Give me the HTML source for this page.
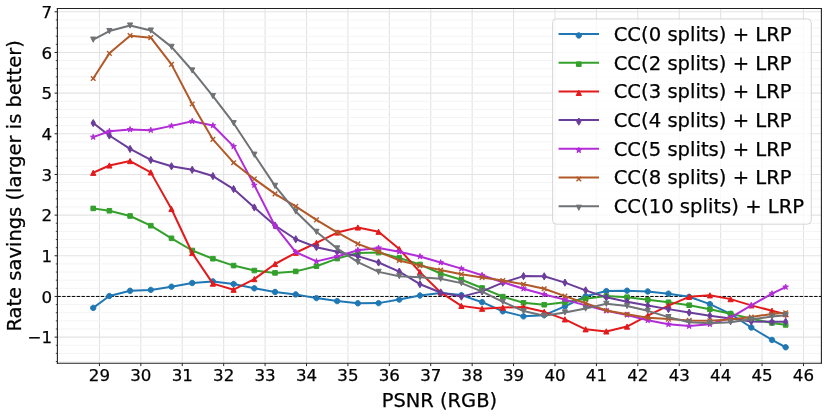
<!DOCTYPE html>
<html><head><meta charset="utf-8"><title>Rate savings chart</title>
<style>
html,body{margin:0;padding:0;background:#fff;}
body{width:830px;height:418px;overflow:hidden;}
svg{display:block;}
svg text{font-family:"DejaVu Sans","Liberation Sans",sans-serif;stroke:#000;stroke-width:0.25px;paint-order:stroke;}
</style></head><body>
<svg  width="830" height="418" viewBox="0 0 830 418" version="1.1">
<defs>
<style type="text/css">*{stroke-linejoin: round; stroke-linecap: butt}</style>
</defs>
<g id="figure_1">
<g id="patch_1">
<path d="M 0 418
L 830 418
L 830 0
L 0 0
z
" style="fill: #ffffff"/>
</g>
<g id="axes_1">
<g id="patch_2">
<path d="M 57.4 363.3
L 821.4 363.3
L 821.4 8.5
L 57.4 8.5
z
" style="fill: #ffffff"/>
</g>
<g id="matplotlib.axis_1">
<g id="xtick_1">
<g id="line2d_1">
<path d="M 99.434909 363.3
L 99.434909 8.5
" clip-path="url(#p8c6a318f81)" style="fill: none; stroke: #e3e3e3; stroke-width: 1.1; stroke-linecap: square"/>
</g>
<g id="line2d_2">
<g>
<g transform="translate(99.43 363.30)" style="fill: #222222; stroke: #222222"><path d="M 0 0
L 0 2.8
" style="stroke: #222222"/></g>
</g>
</g>
<g id="text_1">
<text style="font-size: 16.67px; font-family: 'DejaVu Sans'; text-anchor: middle" x="99.434909" y="381.266595" transform="rotate(-0 99.434909 381.266595)">29</text>
</g>
</g>
<g id="xtick_2">
<g id="line2d_3">
<path d="M 140.848612 363.3
L 140.848612 8.5
" clip-path="url(#p8c6a318f81)" style="fill: none; stroke: #e3e3e3; stroke-width: 1.1; stroke-linecap: square"/>
</g>
<g id="line2d_4">
<g>
<g transform="translate(140.85 363.30)" style="fill: #222222; stroke: #222222"><path d="M 0 0
L 0 2.8
" style="stroke: #222222"/></g>
</g>
</g>
<g id="text_2">
<text style="font-size: 16.67px; font-family: 'DejaVu Sans'; text-anchor: middle" x="140.848612" y="381.266595" transform="rotate(-0 140.848612 381.266595)">30</text>
</g>
</g>
<g id="xtick_3">
<g id="line2d_5">
<path d="M 182.262316 363.3
L 182.262316 8.5
" clip-path="url(#p8c6a318f81)" style="fill: none; stroke: #e3e3e3; stroke-width: 1.1; stroke-linecap: square"/>
</g>
<g id="line2d_6">
<g>
<g transform="translate(182.26 363.30)" style="fill: #222222; stroke: #222222"><path d="M 0 0
L 0 2.8
" style="stroke: #222222"/></g>
</g>
</g>
<g id="text_3">
<text style="font-size: 16.67px; font-family: 'DejaVu Sans'; text-anchor: middle" x="182.262316" y="381.266595" transform="rotate(-0 182.262316 381.266595)">31</text>
</g>
</g>
<g id="xtick_4">
<g id="line2d_7">
<path d="M 223.676019 363.3
L 223.676019 8.5
" clip-path="url(#p8c6a318f81)" style="fill: none; stroke: #e3e3e3; stroke-width: 1.1; stroke-linecap: square"/>
</g>
<g id="line2d_8">
<g>
<g transform="translate(223.68 363.30)" style="fill: #222222; stroke: #222222"><path d="M 0 0
L 0 2.8
" style="stroke: #222222"/></g>
</g>
</g>
<g id="text_4">
<text style="font-size: 16.67px; font-family: 'DejaVu Sans'; text-anchor: middle" x="223.676019" y="381.266595" transform="rotate(-0 223.676019 381.266595)">32</text>
</g>
</g>
<g id="xtick_5">
<g id="line2d_9">
<path d="M 265.089722 363.3
L 265.089722 8.5
" clip-path="url(#p8c6a318f81)" style="fill: none; stroke: #e3e3e3; stroke-width: 1.1; stroke-linecap: square"/>
</g>
<g id="line2d_10">
<g>
<g transform="translate(265.09 363.30)" style="fill: #222222; stroke: #222222"><path d="M 0 0
L 0 2.8
" style="stroke: #222222"/></g>
</g>
</g>
<g id="text_5">
<text style="font-size: 16.67px; font-family: 'DejaVu Sans'; text-anchor: middle" x="265.089722" y="381.266595" transform="rotate(-0 265.089722 381.266595)">33</text>
</g>
</g>
<g id="xtick_6">
<g id="line2d_11">
<path d="M 306.503426 363.3
L 306.503426 8.5
" clip-path="url(#p8c6a318f81)" style="fill: none; stroke: #e3e3e3; stroke-width: 1.1; stroke-linecap: square"/>
</g>
<g id="line2d_12">
<g>
<g transform="translate(306.50 363.30)" style="fill: #222222; stroke: #222222"><path d="M 0 0
L 0 2.8
" style="stroke: #222222"/></g>
</g>
</g>
<g id="text_6">
<text style="font-size: 16.67px; font-family: 'DejaVu Sans'; text-anchor: middle" x="306.503426" y="381.266595" transform="rotate(-0 306.503426 381.266595)">34</text>
</g>
</g>
<g id="xtick_7">
<g id="line2d_13">
<path d="M 347.917129 363.3
L 347.917129 8.5
" clip-path="url(#p8c6a318f81)" style="fill: none; stroke: #e3e3e3; stroke-width: 1.1; stroke-linecap: square"/>
</g>
<g id="line2d_14">
<g>
<g transform="translate(347.92 363.30)" style="fill: #222222; stroke: #222222"><path d="M 0 0
L 0 2.8
" style="stroke: #222222"/></g>
</g>
</g>
<g id="text_7">
<text style="font-size: 16.67px; font-family: 'DejaVu Sans'; text-anchor: middle" x="347.917129" y="381.266595" transform="rotate(-0 347.917129 381.266595)">35</text>
</g>
</g>
<g id="xtick_8">
<g id="line2d_15">
<path d="M 389.330833 363.3
L 389.330833 8.5
" clip-path="url(#p8c6a318f81)" style="fill: none; stroke: #e3e3e3; stroke-width: 1.1; stroke-linecap: square"/>
</g>
<g id="line2d_16">
<g>
<g transform="translate(389.33 363.30)" style="fill: #222222; stroke: #222222"><path d="M 0 0
L 0 2.8
" style="stroke: #222222"/></g>
</g>
</g>
<g id="text_8">
<text style="font-size: 16.67px; font-family: 'DejaVu Sans'; text-anchor: middle" x="389.330833" y="381.266595" transform="rotate(-0 389.330833 381.266595)">36</text>
</g>
</g>
<g id="xtick_9">
<g id="line2d_17">
<path d="M 430.744536 363.3
L 430.744536 8.5
" clip-path="url(#p8c6a318f81)" style="fill: none; stroke: #e3e3e3; stroke-width: 1.1; stroke-linecap: square"/>
</g>
<g id="line2d_18">
<g>
<g transform="translate(430.74 363.30)" style="fill: #222222; stroke: #222222"><path d="M 0 0
L 0 2.8
" style="stroke: #222222"/></g>
</g>
</g>
<g id="text_9">
<text style="font-size: 16.67px; font-family: 'DejaVu Sans'; text-anchor: middle" x="430.744536" y="381.266595" transform="rotate(-0 430.744536 381.266595)">37</text>
</g>
</g>
<g id="xtick_10">
<g id="line2d_19">
<path d="M 472.158239 363.3
L 472.158239 8.5
" clip-path="url(#p8c6a318f81)" style="fill: none; stroke: #e3e3e3; stroke-width: 1.1; stroke-linecap: square"/>
</g>
<g id="line2d_20">
<g>
<g transform="translate(472.16 363.30)" style="fill: #222222; stroke: #222222"><path d="M 0 0
L 0 2.8
" style="stroke: #222222"/></g>
</g>
</g>
<g id="text_10">
<text style="font-size: 16.67px; font-family: 'DejaVu Sans'; text-anchor: middle" x="472.158239" y="381.266595" transform="rotate(-0 472.158239 381.266595)">38</text>
</g>
</g>
<g id="xtick_11">
<g id="line2d_21">
<path d="M 513.571943 363.3
L 513.571943 8.5
" clip-path="url(#p8c6a318f81)" style="fill: none; stroke: #e3e3e3; stroke-width: 1.1; stroke-linecap: square"/>
</g>
<g id="line2d_22">
<g>
<g transform="translate(513.57 363.30)" style="fill: #222222; stroke: #222222"><path d="M 0 0
L 0 2.8
" style="stroke: #222222"/></g>
</g>
</g>
<g id="text_11">
<text style="font-size: 16.67px; font-family: 'DejaVu Sans'; text-anchor: middle" x="513.571943" y="381.266595" transform="rotate(-0 513.571943 381.266595)">39</text>
</g>
</g>
<g id="xtick_12">
<g id="line2d_23">
<path d="M 554.985646 363.3
L 554.985646 8.5
" clip-path="url(#p8c6a318f81)" style="fill: none; stroke: #e3e3e3; stroke-width: 1.1; stroke-linecap: square"/>
</g>
<g id="line2d_24">
<g>
<g transform="translate(554.99 363.30)" style="fill: #222222; stroke: #222222"><path d="M 0 0
L 0 2.8
" style="stroke: #222222"/></g>
</g>
</g>
<g id="text_12">
<text style="font-size: 16.67px; font-family: 'DejaVu Sans'; text-anchor: middle" x="554.985646" y="381.266595" transform="rotate(-0 554.985646 381.266595)">40</text>
</g>
</g>
<g id="xtick_13">
<g id="line2d_25">
<path d="M 596.39935 363.3
L 596.39935 8.5
" clip-path="url(#p8c6a318f81)" style="fill: none; stroke: #e3e3e3; stroke-width: 1.1; stroke-linecap: square"/>
</g>
<g id="line2d_26">
<g>
<g transform="translate(596.40 363.30)" style="fill: #222222; stroke: #222222"><path d="M 0 0
L 0 2.8
" style="stroke: #222222"/></g>
</g>
</g>
<g id="text_13">
<text style="font-size: 16.67px; font-family: 'DejaVu Sans'; text-anchor: middle" x="596.39935" y="381.266595" transform="rotate(-0 596.39935 381.266595)">41</text>
</g>
</g>
<g id="xtick_14">
<g id="line2d_27">
<path d="M 637.813053 363.3
L 637.813053 8.5
" clip-path="url(#p8c6a318f81)" style="fill: none; stroke: #e3e3e3; stroke-width: 1.1; stroke-linecap: square"/>
</g>
<g id="line2d_28">
<g>
<g transform="translate(637.81 363.30)" style="fill: #222222; stroke: #222222"><path d="M 0 0
L 0 2.8
" style="stroke: #222222"/></g>
</g>
</g>
<g id="text_14">
<text style="font-size: 16.67px; font-family: 'DejaVu Sans'; text-anchor: middle" x="637.813053" y="381.266595" transform="rotate(-0 637.813053 381.266595)">42</text>
</g>
</g>
<g id="xtick_15">
<g id="line2d_29">
<path d="M 679.226756 363.3
L 679.226756 8.5
" clip-path="url(#p8c6a318f81)" style="fill: none; stroke: #e3e3e3; stroke-width: 1.1; stroke-linecap: square"/>
</g>
<g id="line2d_30">
<g>
<g transform="translate(679.23 363.30)" style="fill: #222222; stroke: #222222"><path d="M 0 0
L 0 2.8
" style="stroke: #222222"/></g>
</g>
</g>
<g id="text_15">
<text style="font-size: 16.67px; font-family: 'DejaVu Sans'; text-anchor: middle" x="679.226756" y="381.266595" transform="rotate(-0 679.226756 381.266595)">43</text>
</g>
</g>
<g id="xtick_16">
<g id="line2d_31">
<path d="M 720.64046 363.3
L 720.64046 8.5
" clip-path="url(#p8c6a318f81)" style="fill: none; stroke: #e3e3e3; stroke-width: 1.1; stroke-linecap: square"/>
</g>
<g id="line2d_32">
<g>
<g transform="translate(720.64 363.30)" style="fill: #222222; stroke: #222222"><path d="M 0 0
L 0 2.8
" style="stroke: #222222"/></g>
</g>
</g>
<g id="text_16">
<text style="font-size: 16.67px; font-family: 'DejaVu Sans'; text-anchor: middle" x="720.64046" y="381.266595" transform="rotate(-0 720.64046 381.266595)">44</text>
</g>
</g>
<g id="xtick_17">
<g id="line2d_33">
<path d="M 762.054163 363.3
L 762.054163 8.5
" clip-path="url(#p8c6a318f81)" style="fill: none; stroke: #e3e3e3; stroke-width: 1.1; stroke-linecap: square"/>
</g>
<g id="line2d_34">
<g>
<g transform="translate(762.05 363.30)" style="fill: #222222; stroke: #222222"><path d="M 0 0
L 0 2.8
" style="stroke: #222222"/></g>
</g>
</g>
<g id="text_17">
<text style="font-size: 16.67px; font-family: 'DejaVu Sans'; text-anchor: middle" x="762.054163" y="381.266595" transform="rotate(-0 762.054163 381.266595)">45</text>
</g>
</g>
<g id="xtick_18">
<g id="line2d_35">
<path d="M 803.467866 363.3
L 803.467866 8.5
" clip-path="url(#p8c6a318f81)" style="fill: none; stroke: #e3e3e3; stroke-width: 1.1; stroke-linecap: square"/>
</g>
<g id="line2d_36">
<g>
<g transform="translate(803.47 363.30)" style="fill: #222222; stroke: #222222"><path d="M 0 0
L 0 2.8
" style="stroke: #222222"/></g>
</g>
</g>
<g id="text_18">
<text style="font-size: 16.67px; font-family: 'DejaVu Sans'; text-anchor: middle" x="803.467866" y="381.266595" transform="rotate(-0 803.467866 381.266595)">46</text>
</g>
</g>
<g id="text_19">
<text style="font-size: 19.44px; font-family: 'DejaVu Sans'; text-anchor: middle" x="439.4" y="406.804797" transform="rotate(-0 439.4 406.804797)">PSNR (RGB)</text>
</g>
</g>
<g id="matplotlib.axis_2">
<g id="ytick_1">
<g id="line2d_37">
<path d="M 57.4 337.111897
L 821.4 337.111897
" clip-path="url(#p8c6a318f81)" style="fill: none; stroke: #e3e3e3; stroke-width: 1.1; stroke-linecap: square"/>
</g>
<g id="line2d_38">
<g>
<g transform="translate(57.40 337.11)" style="fill: #222222; stroke: #222222"><path d="M 0 0
L -2.8 0
" style="stroke: #222222"/></g>
</g>
</g>
<g id="text_20">
<text style="font-size: 16.67px; font-family: 'DejaVu Sans'; text-anchor: end" x="52.1" y="343.445195" transform="rotate(-0 52.1 343.445195)">−1</text>
</g>
</g>
<g id="ytick_2">
<g id="line2d_39">
<path d="M 57.4 296.44714
L 821.4 296.44714
" clip-path="url(#p8c6a318f81)" style="fill: none; stroke: #e3e3e3; stroke-width: 1.1; stroke-linecap: square"/>
</g>
<g id="line2d_40">
<g>
<g transform="translate(57.40 296.45)" style="fill: #222222; stroke: #222222"><path d="M 0 0
L -2.8 0
" style="stroke: #222222"/></g>
</g>
</g>
<g id="text_21">
<text style="font-size: 16.67px; font-family: 'DejaVu Sans'; text-anchor: end" x="52.1" y="302.780438" transform="rotate(-0 52.1 302.780438)">0</text>
</g>
</g>
<g id="ytick_3">
<g id="line2d_41">
<path d="M 57.4 255.782384
L 821.4 255.782384
" clip-path="url(#p8c6a318f81)" style="fill: none; stroke: #e3e3e3; stroke-width: 1.1; stroke-linecap: square"/>
</g>
<g id="line2d_42">
<g>
<g transform="translate(57.40 255.78)" style="fill: #222222; stroke: #222222"><path d="M 0 0
L -2.8 0
" style="stroke: #222222"/></g>
</g>
</g>
<g id="text_22">
<text style="font-size: 16.67px; font-family: 'DejaVu Sans'; text-anchor: end" x="52.1" y="262.115682" transform="rotate(-0 52.1 262.115682)">1</text>
</g>
</g>
<g id="ytick_4">
<g id="line2d_43">
<path d="M 57.4 215.117628
L 821.4 215.117628
" clip-path="url(#p8c6a318f81)" style="fill: none; stroke: #e3e3e3; stroke-width: 1.1; stroke-linecap: square"/>
</g>
<g id="line2d_44">
<g>
<g transform="translate(57.40 215.12)" style="fill: #222222; stroke: #222222"><path d="M 0 0
L -2.8 0
" style="stroke: #222222"/></g>
</g>
</g>
<g id="text_23">
<text style="font-size: 16.67px; font-family: 'DejaVu Sans'; text-anchor: end" x="52.1" y="221.450925" transform="rotate(-0 52.1 221.450925)">2</text>
</g>
</g>
<g id="ytick_5">
<g id="line2d_45">
<path d="M 57.4 174.452871
L 821.4 174.452871
" clip-path="url(#p8c6a318f81)" style="fill: none; stroke: #e3e3e3; stroke-width: 1.1; stroke-linecap: square"/>
</g>
<g id="line2d_46">
<g>
<g transform="translate(57.40 174.45)" style="fill: #222222; stroke: #222222"><path d="M 0 0
L -2.8 0
" style="stroke: #222222"/></g>
</g>
</g>
<g id="text_24">
<text style="font-size: 16.67px; font-family: 'DejaVu Sans'; text-anchor: end" x="52.1" y="180.786169" transform="rotate(-0 52.1 180.786169)">3</text>
</g>
</g>
<g id="ytick_6">
<g id="line2d_47">
<path d="M 57.4 133.788115
L 821.4 133.788115
" clip-path="url(#p8c6a318f81)" style="fill: none; stroke: #e3e3e3; stroke-width: 1.1; stroke-linecap: square"/>
</g>
<g id="line2d_48">
<g>
<g transform="translate(57.40 133.79)" style="fill: #222222; stroke: #222222"><path d="M 0 0
L -2.8 0
" style="stroke: #222222"/></g>
</g>
</g>
<g id="text_25">
<text style="font-size: 16.67px; font-family: 'DejaVu Sans'; text-anchor: end" x="52.1" y="140.121412" transform="rotate(-0 52.1 140.121412)">4</text>
</g>
</g>
<g id="ytick_7">
<g id="line2d_49">
<path d="M 57.4 93.123358
L 821.4 93.123358
" clip-path="url(#p8c6a318f81)" style="fill: none; stroke: #e3e3e3; stroke-width: 1.1; stroke-linecap: square"/>
</g>
<g id="line2d_50">
<g>
<g transform="translate(57.40 93.12)" style="fill: #222222; stroke: #222222"><path d="M 0 0
L -2.8 0
" style="stroke: #222222"/></g>
</g>
</g>
<g id="text_26">
<text style="font-size: 16.67px; font-family: 'DejaVu Sans'; text-anchor: end" x="52.1" y="99.456656" transform="rotate(-0 52.1 99.456656)">5</text>
</g>
</g>
<g id="ytick_8">
<g id="line2d_51">
<path d="M 57.4 52.458602
L 821.4 52.458602
" clip-path="url(#p8c6a318f81)" style="fill: none; stroke: #e3e3e3; stroke-width: 1.1; stroke-linecap: square"/>
</g>
<g id="line2d_52">
<g>
<g transform="translate(57.40 52.46)" style="fill: #222222; stroke: #222222"><path d="M 0 0
L -2.8 0
" style="stroke: #222222"/></g>
</g>
</g>
<g id="text_27">
<text style="font-size: 16.67px; font-family: 'DejaVu Sans'; text-anchor: end" x="52.1" y="58.791899" transform="rotate(-0 52.1 58.791899)">6</text>
</g>
</g>
<g id="ytick_9">
<g id="line2d_53">
<path d="M 57.4 11.793845
L 821.4 11.793845
" clip-path="url(#p8c6a318f81)" style="fill: none; stroke: #e3e3e3; stroke-width: 1.1; stroke-linecap: square"/>
</g>
<g id="line2d_54">
<g>
<g transform="translate(57.40 11.79)" style="fill: #222222; stroke: #222222"><path d="M 0 0
L -2.8 0
" style="stroke: #222222"/></g>
</g>
</g>
<g id="text_28">
<text style="font-size: 16.67px; font-family: 'DejaVu Sans'; text-anchor: end" x="52.1" y="18.127143" transform="rotate(-0 52.1 18.127143)">7</text>
</g>
</g>
<g id="ytick_10">
<g id="line2d_55">
<path d="M 57.4 361.510751
L 821.4 361.510751
" clip-path="url(#p8c6a318f81)" style="fill: none; stroke: #f4f4f4; stroke-linecap: square"/>
</g>
<g id="line2d_56">
<g>
<g transform="translate(57.40 361.51)" style="fill: #222222; stroke: #222222; stroke-width: 0.8"><path d="M 0 0
L -1.6 0
" style="stroke: #222222; stroke-width: 0.8"/></g>
</g>
</g>
</g>
<g id="ytick_11">
<g id="line2d_57">
<path d="M 57.4 353.377799
L 821.4 353.377799
" clip-path="url(#p8c6a318f81)" style="fill: none; stroke: #f4f4f4; stroke-linecap: square"/>
</g>
<g id="line2d_58">
<g>
<g transform="translate(57.40 353.38)" style="fill: #222222; stroke: #222222; stroke-width: 0.8"><path d="M 0 0
L -1.6 0
" style="stroke: #222222; stroke-width: 0.8"/></g>
</g>
</g>
</g>
<g id="ytick_12">
<g id="line2d_59">
<path d="M 57.4 345.244848
L 821.4 345.244848
" clip-path="url(#p8c6a318f81)" style="fill: none; stroke: #f4f4f4; stroke-linecap: square"/>
</g>
<g id="line2d_60">
<g>
<g transform="translate(57.40 345.24)" style="fill: #222222; stroke: #222222; stroke-width: 0.8"><path d="M 0 0
L -1.6 0
" style="stroke: #222222; stroke-width: 0.8"/></g>
</g>
</g>
</g>
<g id="ytick_13">
<g id="line2d_61">
<path d="M 57.4 328.978946
L 821.4 328.978946
" clip-path="url(#p8c6a318f81)" style="fill: none; stroke: #f4f4f4; stroke-linecap: square"/>
</g>
<g id="line2d_62">
<g>
<g transform="translate(57.40 328.98)" style="fill: #222222; stroke: #222222; stroke-width: 0.8"><path d="M 0 0
L -1.6 0
" style="stroke: #222222; stroke-width: 0.8"/></g>
</g>
</g>
</g>
<g id="ytick_14">
<g id="line2d_63">
<path d="M 57.4 320.845994
L 821.4 320.845994
" clip-path="url(#p8c6a318f81)" style="fill: none; stroke: #f4f4f4; stroke-linecap: square"/>
</g>
<g id="line2d_64">
<g>
<g transform="translate(57.40 320.85)" style="fill: #222222; stroke: #222222; stroke-width: 0.8"><path d="M 0 0
L -1.6 0
" style="stroke: #222222; stroke-width: 0.8"/></g>
</g>
</g>
</g>
<g id="ytick_15">
<g id="line2d_65">
<path d="M 57.4 312.713043
L 821.4 312.713043
" clip-path="url(#p8c6a318f81)" style="fill: none; stroke: #f4f4f4; stroke-linecap: square"/>
</g>
<g id="line2d_66">
<g>
<g transform="translate(57.40 312.71)" style="fill: #222222; stroke: #222222; stroke-width: 0.8"><path d="M 0 0
L -1.6 0
" style="stroke: #222222; stroke-width: 0.8"/></g>
</g>
</g>
</g>
<g id="ytick_16">
<g id="line2d_67">
<path d="M 57.4 304.580092
L 821.4 304.580092
" clip-path="url(#p8c6a318f81)" style="fill: none; stroke: #f4f4f4; stroke-linecap: square"/>
</g>
<g id="line2d_68">
<g>
<g transform="translate(57.40 304.58)" style="fill: #222222; stroke: #222222; stroke-width: 0.8"><path d="M 0 0
L -1.6 0
" style="stroke: #222222; stroke-width: 0.8"/></g>
</g>
</g>
</g>
<g id="ytick_17">
<g id="line2d_69">
<path d="M 57.4 288.314189
L 821.4 288.314189
" clip-path="url(#p8c6a318f81)" style="fill: none; stroke: #f4f4f4; stroke-linecap: square"/>
</g>
<g id="line2d_70">
<g>
<g transform="translate(57.40 288.31)" style="fill: #222222; stroke: #222222; stroke-width: 0.8"><path d="M 0 0
L -1.6 0
" style="stroke: #222222; stroke-width: 0.8"/></g>
</g>
</g>
</g>
<g id="ytick_18">
<g id="line2d_71">
<path d="M 57.4 280.181238
L 821.4 280.181238
" clip-path="url(#p8c6a318f81)" style="fill: none; stroke: #f4f4f4; stroke-linecap: square"/>
</g>
<g id="line2d_72">
<g>
<g transform="translate(57.40 280.18)" style="fill: #222222; stroke: #222222; stroke-width: 0.8"><path d="M 0 0
L -1.6 0
" style="stroke: #222222; stroke-width: 0.8"/></g>
</g>
</g>
</g>
<g id="ytick_19">
<g id="line2d_73">
<path d="M 57.4 272.048287
L 821.4 272.048287
" clip-path="url(#p8c6a318f81)" style="fill: none; stroke: #f4f4f4; stroke-linecap: square"/>
</g>
<g id="line2d_74">
<g>
<g transform="translate(57.40 272.05)" style="fill: #222222; stroke: #222222; stroke-width: 0.8"><path d="M 0 0
L -1.6 0
" style="stroke: #222222; stroke-width: 0.8"/></g>
</g>
</g>
</g>
<g id="ytick_20">
<g id="line2d_75">
<path d="M 57.4 263.915335
L 821.4 263.915335
" clip-path="url(#p8c6a318f81)" style="fill: none; stroke: #f4f4f4; stroke-linecap: square"/>
</g>
<g id="line2d_76">
<g>
<g transform="translate(57.40 263.92)" style="fill: #222222; stroke: #222222; stroke-width: 0.8"><path d="M 0 0
L -1.6 0
" style="stroke: #222222; stroke-width: 0.8"/></g>
</g>
</g>
</g>
<g id="ytick_21">
<g id="line2d_77">
<path d="M 57.4 247.649433
L 821.4 247.649433
" clip-path="url(#p8c6a318f81)" style="fill: none; stroke: #f4f4f4; stroke-linecap: square"/>
</g>
<g id="line2d_78">
<g>
<g transform="translate(57.40 247.65)" style="fill: #222222; stroke: #222222; stroke-width: 0.8"><path d="M 0 0
L -1.6 0
" style="stroke: #222222; stroke-width: 0.8"/></g>
</g>
</g>
</g>
<g id="ytick_22">
<g id="line2d_79">
<path d="M 57.4 239.516481
L 821.4 239.516481
" clip-path="url(#p8c6a318f81)" style="fill: none; stroke: #f4f4f4; stroke-linecap: square"/>
</g>
<g id="line2d_80">
<g>
<g transform="translate(57.40 239.52)" style="fill: #222222; stroke: #222222; stroke-width: 0.8"><path d="M 0 0
L -1.6 0
" style="stroke: #222222; stroke-width: 0.8"/></g>
</g>
</g>
</g>
<g id="ytick_23">
<g id="line2d_81">
<path d="M 57.4 231.38353
L 821.4 231.38353
" clip-path="url(#p8c6a318f81)" style="fill: none; stroke: #f4f4f4; stroke-linecap: square"/>
</g>
<g id="line2d_82">
<g>
<g transform="translate(57.40 231.38)" style="fill: #222222; stroke: #222222; stroke-width: 0.8"><path d="M 0 0
L -1.6 0
" style="stroke: #222222; stroke-width: 0.8"/></g>
</g>
</g>
</g>
<g id="ytick_24">
<g id="line2d_83">
<path d="M 57.4 223.250579
L 821.4 223.250579
" clip-path="url(#p8c6a318f81)" style="fill: none; stroke: #f4f4f4; stroke-linecap: square"/>
</g>
<g id="line2d_84">
<g>
<g transform="translate(57.40 223.25)" style="fill: #222222; stroke: #222222; stroke-width: 0.8"><path d="M 0 0
L -1.6 0
" style="stroke: #222222; stroke-width: 0.8"/></g>
</g>
</g>
</g>
<g id="ytick_25">
<g id="line2d_85">
<path d="M 57.4 206.984676
L 821.4 206.984676
" clip-path="url(#p8c6a318f81)" style="fill: none; stroke: #f4f4f4; stroke-linecap: square"/>
</g>
<g id="line2d_86">
<g>
<g transform="translate(57.40 206.98)" style="fill: #222222; stroke: #222222; stroke-width: 0.8"><path d="M 0 0
L -1.6 0
" style="stroke: #222222; stroke-width: 0.8"/></g>
</g>
</g>
</g>
<g id="ytick_26">
<g id="line2d_87">
<path d="M 57.4 198.851725
L 821.4 198.851725
" clip-path="url(#p8c6a318f81)" style="fill: none; stroke: #f4f4f4; stroke-linecap: square"/>
</g>
<g id="line2d_88">
<g>
<g transform="translate(57.40 198.85)" style="fill: #222222; stroke: #222222; stroke-width: 0.8"><path d="M 0 0
L -1.6 0
" style="stroke: #222222; stroke-width: 0.8"/></g>
</g>
</g>
</g>
<g id="ytick_27">
<g id="line2d_89">
<path d="M 57.4 190.718774
L 821.4 190.718774
" clip-path="url(#p8c6a318f81)" style="fill: none; stroke: #f4f4f4; stroke-linecap: square"/>
</g>
<g id="line2d_90">
<g>
<g transform="translate(57.40 190.72)" style="fill: #222222; stroke: #222222; stroke-width: 0.8"><path d="M 0 0
L -1.6 0
" style="stroke: #222222; stroke-width: 0.8"/></g>
</g>
</g>
</g>
<g id="ytick_28">
<g id="line2d_91">
<path d="M 57.4 182.585822
L 821.4 182.585822
" clip-path="url(#p8c6a318f81)" style="fill: none; stroke: #f4f4f4; stroke-linecap: square"/>
</g>
<g id="line2d_92">
<g>
<g transform="translate(57.40 182.59)" style="fill: #222222; stroke: #222222; stroke-width: 0.8"><path d="M 0 0
L -1.6 0
" style="stroke: #222222; stroke-width: 0.8"/></g>
</g>
</g>
</g>
<g id="ytick_29">
<g id="line2d_93">
<path d="M 57.4 166.31992
L 821.4 166.31992
" clip-path="url(#p8c6a318f81)" style="fill: none; stroke: #f4f4f4; stroke-linecap: square"/>
</g>
<g id="line2d_94">
<g>
<g transform="translate(57.40 166.32)" style="fill: #222222; stroke: #222222; stroke-width: 0.8"><path d="M 0 0
L -1.6 0
" style="stroke: #222222; stroke-width: 0.8"/></g>
</g>
</g>
</g>
<g id="ytick_30">
<g id="line2d_95">
<path d="M 57.4 158.186968
L 821.4 158.186968
" clip-path="url(#p8c6a318f81)" style="fill: none; stroke: #f4f4f4; stroke-linecap: square"/>
</g>
<g id="line2d_96">
<g>
<g transform="translate(57.40 158.19)" style="fill: #222222; stroke: #222222; stroke-width: 0.8"><path d="M 0 0
L -1.6 0
" style="stroke: #222222; stroke-width: 0.8"/></g>
</g>
</g>
</g>
<g id="ytick_31">
<g id="line2d_97">
<path d="M 57.4 150.054017
L 821.4 150.054017
" clip-path="url(#p8c6a318f81)" style="fill: none; stroke: #f4f4f4; stroke-linecap: square"/>
</g>
<g id="line2d_98">
<g>
<g transform="translate(57.40 150.05)" style="fill: #222222; stroke: #222222; stroke-width: 0.8"><path d="M 0 0
L -1.6 0
" style="stroke: #222222; stroke-width: 0.8"/></g>
</g>
</g>
</g>
<g id="ytick_32">
<g id="line2d_99">
<path d="M 57.4 141.921066
L 821.4 141.921066
" clip-path="url(#p8c6a318f81)" style="fill: none; stroke: #f4f4f4; stroke-linecap: square"/>
</g>
<g id="line2d_100">
<g>
<g transform="translate(57.40 141.92)" style="fill: #222222; stroke: #222222; stroke-width: 0.8"><path d="M 0 0
L -1.6 0
" style="stroke: #222222; stroke-width: 0.8"/></g>
</g>
</g>
</g>
<g id="ytick_33">
<g id="line2d_101">
<path d="M 57.4 125.655163
L 821.4 125.655163
" clip-path="url(#p8c6a318f81)" style="fill: none; stroke: #f4f4f4; stroke-linecap: square"/>
</g>
<g id="line2d_102">
<g>
<g transform="translate(57.40 125.66)" style="fill: #222222; stroke: #222222; stroke-width: 0.8"><path d="M 0 0
L -1.6 0
" style="stroke: #222222; stroke-width: 0.8"/></g>
</g>
</g>
</g>
<g id="ytick_34">
<g id="line2d_103">
<path d="M 57.4 117.522212
L 821.4 117.522212
" clip-path="url(#p8c6a318f81)" style="fill: none; stroke: #f4f4f4; stroke-linecap: square"/>
</g>
<g id="line2d_104">
<g>
<g transform="translate(57.40 117.52)" style="fill: #222222; stroke: #222222; stroke-width: 0.8"><path d="M 0 0
L -1.6 0
" style="stroke: #222222; stroke-width: 0.8"/></g>
</g>
</g>
</g>
<g id="ytick_35">
<g id="line2d_105">
<path d="M 57.4 109.389261
L 821.4 109.389261
" clip-path="url(#p8c6a318f81)" style="fill: none; stroke: #f4f4f4; stroke-linecap: square"/>
</g>
<g id="line2d_106">
<g>
<g transform="translate(57.40 109.39)" style="fill: #222222; stroke: #222222; stroke-width: 0.8"><path d="M 0 0
L -1.6 0
" style="stroke: #222222; stroke-width: 0.8"/></g>
</g>
</g>
</g>
<g id="ytick_36">
<g id="line2d_107">
<path d="M 57.4 101.256309
L 821.4 101.256309
" clip-path="url(#p8c6a318f81)" style="fill: none; stroke: #f4f4f4; stroke-linecap: square"/>
</g>
<g id="line2d_108">
<g>
<g transform="translate(57.40 101.26)" style="fill: #222222; stroke: #222222; stroke-width: 0.8"><path d="M 0 0
L -1.6 0
" style="stroke: #222222; stroke-width: 0.8"/></g>
</g>
</g>
</g>
<g id="ytick_37">
<g id="line2d_109">
<path d="M 57.4 84.990407
L 821.4 84.990407
" clip-path="url(#p8c6a318f81)" style="fill: none; stroke: #f4f4f4; stroke-linecap: square"/>
</g>
<g id="line2d_110">
<g>
<g transform="translate(57.40 84.99)" style="fill: #222222; stroke: #222222; stroke-width: 0.8"><path d="M 0 0
L -1.6 0
" style="stroke: #222222; stroke-width: 0.8"/></g>
</g>
</g>
</g>
<g id="ytick_38">
<g id="line2d_111">
<path d="M 57.4 76.857456
L 821.4 76.857456
" clip-path="url(#p8c6a318f81)" style="fill: none; stroke: #f4f4f4; stroke-linecap: square"/>
</g>
<g id="line2d_112">
<g>
<g transform="translate(57.40 76.86)" style="fill: #222222; stroke: #222222; stroke-width: 0.8"><path d="M 0 0
L -1.6 0
" style="stroke: #222222; stroke-width: 0.8"/></g>
</g>
</g>
</g>
<g id="ytick_39">
<g id="line2d_113">
<path d="M 57.4 68.724504
L 821.4 68.724504
" clip-path="url(#p8c6a318f81)" style="fill: none; stroke: #f4f4f4; stroke-linecap: square"/>
</g>
<g id="line2d_114">
<g>
<g transform="translate(57.40 68.72)" style="fill: #222222; stroke: #222222; stroke-width: 0.8"><path d="M 0 0
L -1.6 0
" style="stroke: #222222; stroke-width: 0.8"/></g>
</g>
</g>
</g>
<g id="ytick_40">
<g id="line2d_115">
<path d="M 57.4 60.591553
L 821.4 60.591553
" clip-path="url(#p8c6a318f81)" style="fill: none; stroke: #f4f4f4; stroke-linecap: square"/>
</g>
<g id="line2d_116">
<g>
<g transform="translate(57.40 60.59)" style="fill: #222222; stroke: #222222; stroke-width: 0.8"><path d="M 0 0
L -1.6 0
" style="stroke: #222222; stroke-width: 0.8"/></g>
</g>
</g>
</g>
<g id="ytick_41">
<g id="line2d_117">
<path d="M 57.4 44.32565
L 821.4 44.32565
" clip-path="url(#p8c6a318f81)" style="fill: none; stroke: #f4f4f4; stroke-linecap: square"/>
</g>
<g id="line2d_118">
<g>
<g transform="translate(57.40 44.33)" style="fill: #222222; stroke: #222222; stroke-width: 0.8"><path d="M 0 0
L -1.6 0
" style="stroke: #222222; stroke-width: 0.8"/></g>
</g>
</g>
</g>
<g id="ytick_42">
<g id="line2d_119">
<path d="M 57.4 36.192699
L 821.4 36.192699
" clip-path="url(#p8c6a318f81)" style="fill: none; stroke: #f4f4f4; stroke-linecap: square"/>
</g>
<g id="line2d_120">
<g>
<g transform="translate(57.40 36.19)" style="fill: #222222; stroke: #222222; stroke-width: 0.8"><path d="M 0 0
L -1.6 0
" style="stroke: #222222; stroke-width: 0.8"/></g>
</g>
</g>
</g>
<g id="ytick_43">
<g id="line2d_121">
<path d="M 57.4 28.059748
L 821.4 28.059748
" clip-path="url(#p8c6a318f81)" style="fill: none; stroke: #f4f4f4; stroke-linecap: square"/>
</g>
<g id="line2d_122">
<g>
<g transform="translate(57.40 28.06)" style="fill: #222222; stroke: #222222; stroke-width: 0.8"><path d="M 0 0
L -1.6 0
" style="stroke: #222222; stroke-width: 0.8"/></g>
</g>
</g>
</g>
<g id="ytick_44">
<g id="line2d_123">
<path d="M 57.4 19.926797
L 821.4 19.926797
" clip-path="url(#p8c6a318f81)" style="fill: none; stroke: #f4f4f4; stroke-linecap: square"/>
</g>
<g id="line2d_124">
<g>
<g transform="translate(57.40 19.93)" style="fill: #222222; stroke: #222222; stroke-width: 0.8"><path d="M 0 0
L -1.6 0
" style="stroke: #222222; stroke-width: 0.8"/></g>
</g>
</g>
</g>
<g id="text_29">
<text style="font-size: 19.5px; font-family: 'DejaVu Sans'; text-anchor: middle" x="20.769383" y="185.9" transform="rotate(-90 20.769383 185.9)">Rate savings (larger is better)</text>
</g>
</g>
<g id="line2d_125">
<path d="M 57.4 296.44714
L 821.4 296.44714
" clip-path="url(#p8c6a318f81)" style="fill: none; stroke-dasharray: 3.4,1.42; stroke-dashoffset: 0; stroke: #000000"/>
</g>
<g id="line2d_126">
<path d="M 93.222853 307.914602
L 109.374198 295.999828
L 130.081049 290.794739
L 150.787901 289.900115
L 171.494753 286.687599
L 192.201605 282.987106
L 212.908456 281.401181
L 233.615308 284.003725
L 254.32216 288.314189
L 275.029011 291.974017
L 295.735863 294.413903
L 316.442715 298.114395
L 337.149566 301.082923
L 357.856418 303.278819
L 378.56327 303.11616
L 399.270121 299.578327
L 419.976973 295.511851
L 440.683825 293.11263
L 461.390676 295.105203
L 482.097528 302.180871
L 502.80438 311.289777
L 523.511232 316.372871
L 544.218083 315.152928
L 564.924935 306.369341
L 585.631787 296.243817
L 606.338638 291.079393
L 627.04549 290.71341
L 647.752342 291.48604
L 668.459193 293.681937
L 689.166045 296.813123
L 709.872897 304.092115
L 730.579748 313.932986
L 751.2866 327.515014
L 771.993452 339.95843
L 785.659974 347.278086
" clip-path="url(#p8c6a318f81)" style="fill: none; stroke: #1f78b4; stroke-width: 2; stroke-linecap: square"/>
<g clip-path="url(#p8c6a318f81)">
<g transform="translate(93.22 307.91)" style="fill: #1f78b4; stroke: #1f78b4"><path d="M 0 2.7
C 0.72 2.7 1.4 2.42 1.91 1.91
C 2.42 1.4 2.7 0.72 2.7 0
C 2.7 -0.72 2.42 -1.4 1.91 -1.91
C 1.4 -2.42 0.72 -2.7 0 -2.7
C -0.72 -2.7 -1.4 -2.42 -1.91 -1.91
C -2.42 -1.4 -2.7 -0.72 -2.7 0
C -2.7 0.72 -2.42 1.4 -1.91 1.91
C -1.4 2.42 -0.72 2.7 0 2.7
z
" style="stroke: #1f78b4"/></g>
<g transform="translate(109.37 296.00)" style="fill: #1f78b4; stroke: #1f78b4"><path d="M 0 2.7
C 0.72 2.7 1.4 2.42 1.91 1.91
C 2.42 1.4 2.7 0.72 2.7 0
C 2.7 -0.72 2.42 -1.4 1.91 -1.91
C 1.4 -2.42 0.72 -2.7 0 -2.7
C -0.72 -2.7 -1.4 -2.42 -1.91 -1.91
C -2.42 -1.4 -2.7 -0.72 -2.7 0
C -2.7 0.72 -2.42 1.4 -1.91 1.91
C -1.4 2.42 -0.72 2.7 0 2.7
z
" style="stroke: #1f78b4"/></g>
<g transform="translate(130.08 290.79)" style="fill: #1f78b4; stroke: #1f78b4"><path d="M 0 2.7
C 0.72 2.7 1.4 2.42 1.91 1.91
C 2.42 1.4 2.7 0.72 2.7 0
C 2.7 -0.72 2.42 -1.4 1.91 -1.91
C 1.4 -2.42 0.72 -2.7 0 -2.7
C -0.72 -2.7 -1.4 -2.42 -1.91 -1.91
C -2.42 -1.4 -2.7 -0.72 -2.7 0
C -2.7 0.72 -2.42 1.4 -1.91 1.91
C -1.4 2.42 -0.72 2.7 0 2.7
z
" style="stroke: #1f78b4"/></g>
<g transform="translate(150.79 289.90)" style="fill: #1f78b4; stroke: #1f78b4"><path d="M 0 2.7
C 0.72 2.7 1.4 2.42 1.91 1.91
C 2.42 1.4 2.7 0.72 2.7 0
C 2.7 -0.72 2.42 -1.4 1.91 -1.91
C 1.4 -2.42 0.72 -2.7 0 -2.7
C -0.72 -2.7 -1.4 -2.42 -1.91 -1.91
C -2.42 -1.4 -2.7 -0.72 -2.7 0
C -2.7 0.72 -2.42 1.4 -1.91 1.91
C -1.4 2.42 -0.72 2.7 0 2.7
z
" style="stroke: #1f78b4"/></g>
<g transform="translate(171.49 286.69)" style="fill: #1f78b4; stroke: #1f78b4"><path d="M 0 2.7
C 0.72 2.7 1.4 2.42 1.91 1.91
C 2.42 1.4 2.7 0.72 2.7 0
C 2.7 -0.72 2.42 -1.4 1.91 -1.91
C 1.4 -2.42 0.72 -2.7 0 -2.7
C -0.72 -2.7 -1.4 -2.42 -1.91 -1.91
C -2.42 -1.4 -2.7 -0.72 -2.7 0
C -2.7 0.72 -2.42 1.4 -1.91 1.91
C -1.4 2.42 -0.72 2.7 0 2.7
z
" style="stroke: #1f78b4"/></g>
<g transform="translate(192.20 282.99)" style="fill: #1f78b4; stroke: #1f78b4"><path d="M 0 2.7
C 0.72 2.7 1.4 2.42 1.91 1.91
C 2.42 1.4 2.7 0.72 2.7 0
C 2.7 -0.72 2.42 -1.4 1.91 -1.91
C 1.4 -2.42 0.72 -2.7 0 -2.7
C -0.72 -2.7 -1.4 -2.42 -1.91 -1.91
C -2.42 -1.4 -2.7 -0.72 -2.7 0
C -2.7 0.72 -2.42 1.4 -1.91 1.91
C -1.4 2.42 -0.72 2.7 0 2.7
z
" style="stroke: #1f78b4"/></g>
<g transform="translate(212.91 281.40)" style="fill: #1f78b4; stroke: #1f78b4"><path d="M 0 2.7
C 0.72 2.7 1.4 2.42 1.91 1.91
C 2.42 1.4 2.7 0.72 2.7 0
C 2.7 -0.72 2.42 -1.4 1.91 -1.91
C 1.4 -2.42 0.72 -2.7 0 -2.7
C -0.72 -2.7 -1.4 -2.42 -1.91 -1.91
C -2.42 -1.4 -2.7 -0.72 -2.7 0
C -2.7 0.72 -2.42 1.4 -1.91 1.91
C -1.4 2.42 -0.72 2.7 0 2.7
z
" style="stroke: #1f78b4"/></g>
<g transform="translate(233.62 284.00)" style="fill: #1f78b4; stroke: #1f78b4"><path d="M 0 2.7
C 0.72 2.7 1.4 2.42 1.91 1.91
C 2.42 1.4 2.7 0.72 2.7 0
C 2.7 -0.72 2.42 -1.4 1.91 -1.91
C 1.4 -2.42 0.72 -2.7 0 -2.7
C -0.72 -2.7 -1.4 -2.42 -1.91 -1.91
C -2.42 -1.4 -2.7 -0.72 -2.7 0
C -2.7 0.72 -2.42 1.4 -1.91 1.91
C -1.4 2.42 -0.72 2.7 0 2.7
z
" style="stroke: #1f78b4"/></g>
<g transform="translate(254.32 288.31)" style="fill: #1f78b4; stroke: #1f78b4"><path d="M 0 2.7
C 0.72 2.7 1.4 2.42 1.91 1.91
C 2.42 1.4 2.7 0.72 2.7 0
C 2.7 -0.72 2.42 -1.4 1.91 -1.91
C 1.4 -2.42 0.72 -2.7 0 -2.7
C -0.72 -2.7 -1.4 -2.42 -1.91 -1.91
C -2.42 -1.4 -2.7 -0.72 -2.7 0
C -2.7 0.72 -2.42 1.4 -1.91 1.91
C -1.4 2.42 -0.72 2.7 0 2.7
z
" style="stroke: #1f78b4"/></g>
<g transform="translate(275.03 291.97)" style="fill: #1f78b4; stroke: #1f78b4"><path d="M 0 2.7
C 0.72 2.7 1.4 2.42 1.91 1.91
C 2.42 1.4 2.7 0.72 2.7 0
C 2.7 -0.72 2.42 -1.4 1.91 -1.91
C 1.4 -2.42 0.72 -2.7 0 -2.7
C -0.72 -2.7 -1.4 -2.42 -1.91 -1.91
C -2.42 -1.4 -2.7 -0.72 -2.7 0
C -2.7 0.72 -2.42 1.4 -1.91 1.91
C -1.4 2.42 -0.72 2.7 0 2.7
z
" style="stroke: #1f78b4"/></g>
<g transform="translate(295.74 294.41)" style="fill: #1f78b4; stroke: #1f78b4"><path d="M 0 2.7
C 0.72 2.7 1.4 2.42 1.91 1.91
C 2.42 1.4 2.7 0.72 2.7 0
C 2.7 -0.72 2.42 -1.4 1.91 -1.91
C 1.4 -2.42 0.72 -2.7 0 -2.7
C -0.72 -2.7 -1.4 -2.42 -1.91 -1.91
C -2.42 -1.4 -2.7 -0.72 -2.7 0
C -2.7 0.72 -2.42 1.4 -1.91 1.91
C -1.4 2.42 -0.72 2.7 0 2.7
z
" style="stroke: #1f78b4"/></g>
<g transform="translate(316.44 298.11)" style="fill: #1f78b4; stroke: #1f78b4"><path d="M 0 2.7
C 0.72 2.7 1.4 2.42 1.91 1.91
C 2.42 1.4 2.7 0.72 2.7 0
C 2.7 -0.72 2.42 -1.4 1.91 -1.91
C 1.4 -2.42 0.72 -2.7 0 -2.7
C -0.72 -2.7 -1.4 -2.42 -1.91 -1.91
C -2.42 -1.4 -2.7 -0.72 -2.7 0
C -2.7 0.72 -2.42 1.4 -1.91 1.91
C -1.4 2.42 -0.72 2.7 0 2.7
z
" style="stroke: #1f78b4"/></g>
<g transform="translate(337.15 301.08)" style="fill: #1f78b4; stroke: #1f78b4"><path d="M 0 2.7
C 0.72 2.7 1.4 2.42 1.91 1.91
C 2.42 1.4 2.7 0.72 2.7 0
C 2.7 -0.72 2.42 -1.4 1.91 -1.91
C 1.4 -2.42 0.72 -2.7 0 -2.7
C -0.72 -2.7 -1.4 -2.42 -1.91 -1.91
C -2.42 -1.4 -2.7 -0.72 -2.7 0
C -2.7 0.72 -2.42 1.4 -1.91 1.91
C -1.4 2.42 -0.72 2.7 0 2.7
z
" style="stroke: #1f78b4"/></g>
<g transform="translate(357.86 303.28)" style="fill: #1f78b4; stroke: #1f78b4"><path d="M 0 2.7
C 0.72 2.7 1.4 2.42 1.91 1.91
C 2.42 1.4 2.7 0.72 2.7 0
C 2.7 -0.72 2.42 -1.4 1.91 -1.91
C 1.4 -2.42 0.72 -2.7 0 -2.7
C -0.72 -2.7 -1.4 -2.42 -1.91 -1.91
C -2.42 -1.4 -2.7 -0.72 -2.7 0
C -2.7 0.72 -2.42 1.4 -1.91 1.91
C -1.4 2.42 -0.72 2.7 0 2.7
z
" style="stroke: #1f78b4"/></g>
<g transform="translate(378.56 303.12)" style="fill: #1f78b4; stroke: #1f78b4"><path d="M 0 2.7
C 0.72 2.7 1.4 2.42 1.91 1.91
C 2.42 1.4 2.7 0.72 2.7 0
C 2.7 -0.72 2.42 -1.4 1.91 -1.91
C 1.4 -2.42 0.72 -2.7 0 -2.7
C -0.72 -2.7 -1.4 -2.42 -1.91 -1.91
C -2.42 -1.4 -2.7 -0.72 -2.7 0
C -2.7 0.72 -2.42 1.4 -1.91 1.91
C -1.4 2.42 -0.72 2.7 0 2.7
z
" style="stroke: #1f78b4"/></g>
<g transform="translate(399.27 299.58)" style="fill: #1f78b4; stroke: #1f78b4"><path d="M 0 2.7
C 0.72 2.7 1.4 2.42 1.91 1.91
C 2.42 1.4 2.7 0.72 2.7 0
C 2.7 -0.72 2.42 -1.4 1.91 -1.91
C 1.4 -2.42 0.72 -2.7 0 -2.7
C -0.72 -2.7 -1.4 -2.42 -1.91 -1.91
C -2.42 -1.4 -2.7 -0.72 -2.7 0
C -2.7 0.72 -2.42 1.4 -1.91 1.91
C -1.4 2.42 -0.72 2.7 0 2.7
z
" style="stroke: #1f78b4"/></g>
<g transform="translate(419.98 295.51)" style="fill: #1f78b4; stroke: #1f78b4"><path d="M 0 2.7
C 0.72 2.7 1.4 2.42 1.91 1.91
C 2.42 1.4 2.7 0.72 2.7 0
C 2.7 -0.72 2.42 -1.4 1.91 -1.91
C 1.4 -2.42 0.72 -2.7 0 -2.7
C -0.72 -2.7 -1.4 -2.42 -1.91 -1.91
C -2.42 -1.4 -2.7 -0.72 -2.7 0
C -2.7 0.72 -2.42 1.4 -1.91 1.91
C -1.4 2.42 -0.72 2.7 0 2.7
z
" style="stroke: #1f78b4"/></g>
<g transform="translate(440.68 293.11)" style="fill: #1f78b4; stroke: #1f78b4"><path d="M 0 2.7
C 0.72 2.7 1.4 2.42 1.91 1.91
C 2.42 1.4 2.7 0.72 2.7 0
C 2.7 -0.72 2.42 -1.4 1.91 -1.91
C 1.4 -2.42 0.72 -2.7 0 -2.7
C -0.72 -2.7 -1.4 -2.42 -1.91 -1.91
C -2.42 -1.4 -2.7 -0.72 -2.7 0
C -2.7 0.72 -2.42 1.4 -1.91 1.91
C -1.4 2.42 -0.72 2.7 0 2.7
z
" style="stroke: #1f78b4"/></g>
<g transform="translate(461.39 295.11)" style="fill: #1f78b4; stroke: #1f78b4"><path d="M 0 2.7
C 0.72 2.7 1.4 2.42 1.91 1.91
C 2.42 1.4 2.7 0.72 2.7 0
C 2.7 -0.72 2.42 -1.4 1.91 -1.91
C 1.4 -2.42 0.72 -2.7 0 -2.7
C -0.72 -2.7 -1.4 -2.42 -1.91 -1.91
C -2.42 -1.4 -2.7 -0.72 -2.7 0
C -2.7 0.72 -2.42 1.4 -1.91 1.91
C -1.4 2.42 -0.72 2.7 0 2.7
z
" style="stroke: #1f78b4"/></g>
<g transform="translate(482.10 302.18)" style="fill: #1f78b4; stroke: #1f78b4"><path d="M 0 2.7
C 0.72 2.7 1.4 2.42 1.91 1.91
C 2.42 1.4 2.7 0.72 2.7 0
C 2.7 -0.72 2.42 -1.4 1.91 -1.91
C 1.4 -2.42 0.72 -2.7 0 -2.7
C -0.72 -2.7 -1.4 -2.42 -1.91 -1.91
C -2.42 -1.4 -2.7 -0.72 -2.7 0
C -2.7 0.72 -2.42 1.4 -1.91 1.91
C -1.4 2.42 -0.72 2.7 0 2.7
z
" style="stroke: #1f78b4"/></g>
<g transform="translate(502.80 311.29)" style="fill: #1f78b4; stroke: #1f78b4"><path d="M 0 2.7
C 0.72 2.7 1.4 2.42 1.91 1.91
C 2.42 1.4 2.7 0.72 2.7 0
C 2.7 -0.72 2.42 -1.4 1.91 -1.91
C 1.4 -2.42 0.72 -2.7 0 -2.7
C -0.72 -2.7 -1.4 -2.42 -1.91 -1.91
C -2.42 -1.4 -2.7 -0.72 -2.7 0
C -2.7 0.72 -2.42 1.4 -1.91 1.91
C -1.4 2.42 -0.72 2.7 0 2.7
z
" style="stroke: #1f78b4"/></g>
<g transform="translate(523.51 316.37)" style="fill: #1f78b4; stroke: #1f78b4"><path d="M 0 2.7
C 0.72 2.7 1.4 2.42 1.91 1.91
C 2.42 1.4 2.7 0.72 2.7 0
C 2.7 -0.72 2.42 -1.4 1.91 -1.91
C 1.4 -2.42 0.72 -2.7 0 -2.7
C -0.72 -2.7 -1.4 -2.42 -1.91 -1.91
C -2.42 -1.4 -2.7 -0.72 -2.7 0
C -2.7 0.72 -2.42 1.4 -1.91 1.91
C -1.4 2.42 -0.72 2.7 0 2.7
z
" style="stroke: #1f78b4"/></g>
<g transform="translate(544.22 315.15)" style="fill: #1f78b4; stroke: #1f78b4"><path d="M 0 2.7
C 0.72 2.7 1.4 2.42 1.91 1.91
C 2.42 1.4 2.7 0.72 2.7 0
C 2.7 -0.72 2.42 -1.4 1.91 -1.91
C 1.4 -2.42 0.72 -2.7 0 -2.7
C -0.72 -2.7 -1.4 -2.42 -1.91 -1.91
C -2.42 -1.4 -2.7 -0.72 -2.7 0
C -2.7 0.72 -2.42 1.4 -1.91 1.91
C -1.4 2.42 -0.72 2.7 0 2.7
z
" style="stroke: #1f78b4"/></g>
<g transform="translate(564.92 306.37)" style="fill: #1f78b4; stroke: #1f78b4"><path d="M 0 2.7
C 0.72 2.7 1.4 2.42 1.91 1.91
C 2.42 1.4 2.7 0.72 2.7 0
C 2.7 -0.72 2.42 -1.4 1.91 -1.91
C 1.4 -2.42 0.72 -2.7 0 -2.7
C -0.72 -2.7 -1.4 -2.42 -1.91 -1.91
C -2.42 -1.4 -2.7 -0.72 -2.7 0
C -2.7 0.72 -2.42 1.4 -1.91 1.91
C -1.4 2.42 -0.72 2.7 0 2.7
z
" style="stroke: #1f78b4"/></g>
<g transform="translate(585.63 296.24)" style="fill: #1f78b4; stroke: #1f78b4"><path d="M 0 2.7
C 0.72 2.7 1.4 2.42 1.91 1.91
C 2.42 1.4 2.7 0.72 2.7 0
C 2.7 -0.72 2.42 -1.4 1.91 -1.91
C 1.4 -2.42 0.72 -2.7 0 -2.7
C -0.72 -2.7 -1.4 -2.42 -1.91 -1.91
C -2.42 -1.4 -2.7 -0.72 -2.7 0
C -2.7 0.72 -2.42 1.4 -1.91 1.91
C -1.4 2.42 -0.72 2.7 0 2.7
z
" style="stroke: #1f78b4"/></g>
<g transform="translate(606.34 291.08)" style="fill: #1f78b4; stroke: #1f78b4"><path d="M 0 2.7
C 0.72 2.7 1.4 2.42 1.91 1.91
C 2.42 1.4 2.7 0.72 2.7 0
C 2.7 -0.72 2.42 -1.4 1.91 -1.91
C 1.4 -2.42 0.72 -2.7 0 -2.7
C -0.72 -2.7 -1.4 -2.42 -1.91 -1.91
C -2.42 -1.4 -2.7 -0.72 -2.7 0
C -2.7 0.72 -2.42 1.4 -1.91 1.91
C -1.4 2.42 -0.72 2.7 0 2.7
z
" style="stroke: #1f78b4"/></g>
<g transform="translate(627.05 290.71)" style="fill: #1f78b4; stroke: #1f78b4"><path d="M 0 2.7
C 0.72 2.7 1.4 2.42 1.91 1.91
C 2.42 1.4 2.7 0.72 2.7 0
C 2.7 -0.72 2.42 -1.4 1.91 -1.91
C 1.4 -2.42 0.72 -2.7 0 -2.7
C -0.72 -2.7 -1.4 -2.42 -1.91 -1.91
C -2.42 -1.4 -2.7 -0.72 -2.7 0
C -2.7 0.72 -2.42 1.4 -1.91 1.91
C -1.4 2.42 -0.72 2.7 0 2.7
z
" style="stroke: #1f78b4"/></g>
<g transform="translate(647.75 291.49)" style="fill: #1f78b4; stroke: #1f78b4"><path d="M 0 2.7
C 0.72 2.7 1.4 2.42 1.91 1.91
C 2.42 1.4 2.7 0.72 2.7 0
C 2.7 -0.72 2.42 -1.4 1.91 -1.91
C 1.4 -2.42 0.72 -2.7 0 -2.7
C -0.72 -2.7 -1.4 -2.42 -1.91 -1.91
C -2.42 -1.4 -2.7 -0.72 -2.7 0
C -2.7 0.72 -2.42 1.4 -1.91 1.91
C -1.4 2.42 -0.72 2.7 0 2.7
z
" style="stroke: #1f78b4"/></g>
<g transform="translate(668.46 293.68)" style="fill: #1f78b4; stroke: #1f78b4"><path d="M 0 2.7
C 0.72 2.7 1.4 2.42 1.91 1.91
C 2.42 1.4 2.7 0.72 2.7 0
C 2.7 -0.72 2.42 -1.4 1.91 -1.91
C 1.4 -2.42 0.72 -2.7 0 -2.7
C -0.72 -2.7 -1.4 -2.42 -1.91 -1.91
C -2.42 -1.4 -2.7 -0.72 -2.7 0
C -2.7 0.72 -2.42 1.4 -1.91 1.91
C -1.4 2.42 -0.72 2.7 0 2.7
z
" style="stroke: #1f78b4"/></g>
<g transform="translate(689.17 296.81)" style="fill: #1f78b4; stroke: #1f78b4"><path d="M 0 2.7
C 0.72 2.7 1.4 2.42 1.91 1.91
C 2.42 1.4 2.7 0.72 2.7 0
C 2.7 -0.72 2.42 -1.4 1.91 -1.91
C 1.4 -2.42 0.72 -2.7 0 -2.7
C -0.72 -2.7 -1.4 -2.42 -1.91 -1.91
C -2.42 -1.4 -2.7 -0.72 -2.7 0
C -2.7 0.72 -2.42 1.4 -1.91 1.91
C -1.4 2.42 -0.72 2.7 0 2.7
z
" style="stroke: #1f78b4"/></g>
<g transform="translate(709.87 304.09)" style="fill: #1f78b4; stroke: #1f78b4"><path d="M 0 2.7
C 0.72 2.7 1.4 2.42 1.91 1.91
C 2.42 1.4 2.7 0.72 2.7 0
C 2.7 -0.72 2.42 -1.4 1.91 -1.91
C 1.4 -2.42 0.72 -2.7 0 -2.7
C -0.72 -2.7 -1.4 -2.42 -1.91 -1.91
C -2.42 -1.4 -2.7 -0.72 -2.7 0
C -2.7 0.72 -2.42 1.4 -1.91 1.91
C -1.4 2.42 -0.72 2.7 0 2.7
z
" style="stroke: #1f78b4"/></g>
<g transform="translate(730.58 313.93)" style="fill: #1f78b4; stroke: #1f78b4"><path d="M 0 2.7
C 0.72 2.7 1.4 2.42 1.91 1.91
C 2.42 1.4 2.7 0.72 2.7 0
C 2.7 -0.72 2.42 -1.4 1.91 -1.91
C 1.4 -2.42 0.72 -2.7 0 -2.7
C -0.72 -2.7 -1.4 -2.42 -1.91 -1.91
C -2.42 -1.4 -2.7 -0.72 -2.7 0
C -2.7 0.72 -2.42 1.4 -1.91 1.91
C -1.4 2.42 -0.72 2.7 0 2.7
z
" style="stroke: #1f78b4"/></g>
<g transform="translate(751.29 327.52)" style="fill: #1f78b4; stroke: #1f78b4"><path d="M 0 2.7
C 0.72 2.7 1.4 2.42 1.91 1.91
C 2.42 1.4 2.7 0.72 2.7 0
C 2.7 -0.72 2.42 -1.4 1.91 -1.91
C 1.4 -2.42 0.72 -2.7 0 -2.7
C -0.72 -2.7 -1.4 -2.42 -1.91 -1.91
C -2.42 -1.4 -2.7 -0.72 -2.7 0
C -2.7 0.72 -2.42 1.4 -1.91 1.91
C -1.4 2.42 -0.72 2.7 0 2.7
z
" style="stroke: #1f78b4"/></g>
<g transform="translate(771.99 339.96)" style="fill: #1f78b4; stroke: #1f78b4"><path d="M 0 2.7
C 0.72 2.7 1.4 2.42 1.91 1.91
C 2.42 1.4 2.7 0.72 2.7 0
C 2.7 -0.72 2.42 -1.4 1.91 -1.91
C 1.4 -2.42 0.72 -2.7 0 -2.7
C -0.72 -2.7 -1.4 -2.42 -1.91 -1.91
C -2.42 -1.4 -2.7 -0.72 -2.7 0
C -2.7 0.72 -2.42 1.4 -1.91 1.91
C -1.4 2.42 -0.72 2.7 0 2.7
z
" style="stroke: #1f78b4"/></g>
<g transform="translate(785.66 347.28)" style="fill: #1f78b4; stroke: #1f78b4"><path d="M 0 2.7
C 0.72 2.7 1.4 2.42 1.91 1.91
C 2.42 1.4 2.7 0.72 2.7 0
C 2.7 -0.72 2.42 -1.4 1.91 -1.91
C 1.4 -2.42 0.72 -2.7 0 -2.7
C -0.72 -2.7 -1.4 -2.42 -1.91 -1.91
C -2.42 -1.4 -2.7 -0.72 -2.7 0
C -2.7 0.72 -2.42 1.4 -1.91 1.91
C -1.4 2.42 -0.72 2.7 0 2.7
z
" style="stroke: #1f78b4"/></g>
</g>
</g>
<g id="line2d_127">
<path d="M 93.222853 208.407943
L 109.374198 210.766499
L 130.081049 215.971587
L 150.787901 225.690464
L 171.494753 238.296539
L 192.201605 250.495966
L 212.908456 258.710246
L 233.615308 265.58259
L 254.32216 270.543691
L 275.029011 272.902246
L 295.735863 271.39765
L 316.442715 266.192562
L 337.149566 258.588252
L 357.856418 252.976516
L 378.56327 252.569868
L 399.270121 257.896951
L 419.976973 264.484642
L 440.683825 273.471553
L 461.390676 279.77459
L 482.097528 287.948206
L 502.80438 296.650464
L 523.511232 302.790842
L 544.218083 304.742751
L 564.924935 302.34353
L 585.631787 298.643037
L 606.338638 296.121822
L 627.04549 297.179106
L 647.752342 299.86298
L 668.459193 302.262201
L 689.166045 305.190063
L 709.872897 309.215874
L 730.579748 313.648332
L 751.2866 318.731427
L 771.993452 322.960562
L 785.659974 324.91247
" clip-path="url(#p8c6a318f81)" style="fill: none; stroke: #33a02c; stroke-width: 2; stroke-linecap: square"/>
<g clip-path="url(#p8c6a318f81)">
<g transform="translate(93.22 208.41)" style="fill: #33a02c; stroke: #33a02c; stroke-linejoin: miter"><path d="M -2.3 2.3
L 2.3 2.3
L 2.3 -2.3
L -2.3 -2.3
z
" style="stroke: #33a02c; stroke-linejoin: miter"/></g>
<g transform="translate(109.37 210.77)" style="fill: #33a02c; stroke: #33a02c; stroke-linejoin: miter"><path d="M -2.3 2.3
L 2.3 2.3
L 2.3 -2.3
L -2.3 -2.3
z
" style="stroke: #33a02c; stroke-linejoin: miter"/></g>
<g transform="translate(130.08 215.97)" style="fill: #33a02c; stroke: #33a02c; stroke-linejoin: miter"><path d="M -2.3 2.3
L 2.3 2.3
L 2.3 -2.3
L -2.3 -2.3
z
" style="stroke: #33a02c; stroke-linejoin: miter"/></g>
<g transform="translate(150.79 225.69)" style="fill: #33a02c; stroke: #33a02c; stroke-linejoin: miter"><path d="M -2.3 2.3
L 2.3 2.3
L 2.3 -2.3
L -2.3 -2.3
z
" style="stroke: #33a02c; stroke-linejoin: miter"/></g>
<g transform="translate(171.49 238.30)" style="fill: #33a02c; stroke: #33a02c; stroke-linejoin: miter"><path d="M -2.3 2.3
L 2.3 2.3
L 2.3 -2.3
L -2.3 -2.3
z
" style="stroke: #33a02c; stroke-linejoin: miter"/></g>
<g transform="translate(192.20 250.50)" style="fill: #33a02c; stroke: #33a02c; stroke-linejoin: miter"><path d="M -2.3 2.3
L 2.3 2.3
L 2.3 -2.3
L -2.3 -2.3
z
" style="stroke: #33a02c; stroke-linejoin: miter"/></g>
<g transform="translate(212.91 258.71)" style="fill: #33a02c; stroke: #33a02c; stroke-linejoin: miter"><path d="M -2.3 2.3
L 2.3 2.3
L 2.3 -2.3
L -2.3 -2.3
z
" style="stroke: #33a02c; stroke-linejoin: miter"/></g>
<g transform="translate(233.62 265.58)" style="fill: #33a02c; stroke: #33a02c; stroke-linejoin: miter"><path d="M -2.3 2.3
L 2.3 2.3
L 2.3 -2.3
L -2.3 -2.3
z
" style="stroke: #33a02c; stroke-linejoin: miter"/></g>
<g transform="translate(254.32 270.54)" style="fill: #33a02c; stroke: #33a02c; stroke-linejoin: miter"><path d="M -2.3 2.3
L 2.3 2.3
L 2.3 -2.3
L -2.3 -2.3
z
" style="stroke: #33a02c; stroke-linejoin: miter"/></g>
<g transform="translate(275.03 272.90)" style="fill: #33a02c; stroke: #33a02c; stroke-linejoin: miter"><path d="M -2.3 2.3
L 2.3 2.3
L 2.3 -2.3
L -2.3 -2.3
z
" style="stroke: #33a02c; stroke-linejoin: miter"/></g>
<g transform="translate(295.74 271.40)" style="fill: #33a02c; stroke: #33a02c; stroke-linejoin: miter"><path d="M -2.3 2.3
L 2.3 2.3
L 2.3 -2.3
L -2.3 -2.3
z
" style="stroke: #33a02c; stroke-linejoin: miter"/></g>
<g transform="translate(316.44 266.19)" style="fill: #33a02c; stroke: #33a02c; stroke-linejoin: miter"><path d="M -2.3 2.3
L 2.3 2.3
L 2.3 -2.3
L -2.3 -2.3
z
" style="stroke: #33a02c; stroke-linejoin: miter"/></g>
<g transform="translate(337.15 258.59)" style="fill: #33a02c; stroke: #33a02c; stroke-linejoin: miter"><path d="M -2.3 2.3
L 2.3 2.3
L 2.3 -2.3
L -2.3 -2.3
z
" style="stroke: #33a02c; stroke-linejoin: miter"/></g>
<g transform="translate(357.86 252.98)" style="fill: #33a02c; stroke: #33a02c; stroke-linejoin: miter"><path d="M -2.3 2.3
L 2.3 2.3
L 2.3 -2.3
L -2.3 -2.3
z
" style="stroke: #33a02c; stroke-linejoin: miter"/></g>
<g transform="translate(378.56 252.57)" style="fill: #33a02c; stroke: #33a02c; stroke-linejoin: miter"><path d="M -2.3 2.3
L 2.3 2.3
L 2.3 -2.3
L -2.3 -2.3
z
" style="stroke: #33a02c; stroke-linejoin: miter"/></g>
<g transform="translate(399.27 257.90)" style="fill: #33a02c; stroke: #33a02c; stroke-linejoin: miter"><path d="M -2.3 2.3
L 2.3 2.3
L 2.3 -2.3
L -2.3 -2.3
z
" style="stroke: #33a02c; stroke-linejoin: miter"/></g>
<g transform="translate(419.98 264.48)" style="fill: #33a02c; stroke: #33a02c; stroke-linejoin: miter"><path d="M -2.3 2.3
L 2.3 2.3
L 2.3 -2.3
L -2.3 -2.3
z
" style="stroke: #33a02c; stroke-linejoin: miter"/></g>
<g transform="translate(440.68 273.47)" style="fill: #33a02c; stroke: #33a02c; stroke-linejoin: miter"><path d="M -2.3 2.3
L 2.3 2.3
L 2.3 -2.3
L -2.3 -2.3
z
" style="stroke: #33a02c; stroke-linejoin: miter"/></g>
<g transform="translate(461.39 279.77)" style="fill: #33a02c; stroke: #33a02c; stroke-linejoin: miter"><path d="M -2.3 2.3
L 2.3 2.3
L 2.3 -2.3
L -2.3 -2.3
z
" style="stroke: #33a02c; stroke-linejoin: miter"/></g>
<g transform="translate(482.10 287.95)" style="fill: #33a02c; stroke: #33a02c; stroke-linejoin: miter"><path d="M -2.3 2.3
L 2.3 2.3
L 2.3 -2.3
L -2.3 -2.3
z
" style="stroke: #33a02c; stroke-linejoin: miter"/></g>
<g transform="translate(502.80 296.65)" style="fill: #33a02c; stroke: #33a02c; stroke-linejoin: miter"><path d="M -2.3 2.3
L 2.3 2.3
L 2.3 -2.3
L -2.3 -2.3
z
" style="stroke: #33a02c; stroke-linejoin: miter"/></g>
<g transform="translate(523.51 302.79)" style="fill: #33a02c; stroke: #33a02c; stroke-linejoin: miter"><path d="M -2.3 2.3
L 2.3 2.3
L 2.3 -2.3
L -2.3 -2.3
z
" style="stroke: #33a02c; stroke-linejoin: miter"/></g>
<g transform="translate(544.22 304.74)" style="fill: #33a02c; stroke: #33a02c; stroke-linejoin: miter"><path d="M -2.3 2.3
L 2.3 2.3
L 2.3 -2.3
L -2.3 -2.3
z
" style="stroke: #33a02c; stroke-linejoin: miter"/></g>
<g transform="translate(564.92 302.34)" style="fill: #33a02c; stroke: #33a02c; stroke-linejoin: miter"><path d="M -2.3 2.3
L 2.3 2.3
L 2.3 -2.3
L -2.3 -2.3
z
" style="stroke: #33a02c; stroke-linejoin: miter"/></g>
<g transform="translate(585.63 298.64)" style="fill: #33a02c; stroke: #33a02c; stroke-linejoin: miter"><path d="M -2.3 2.3
L 2.3 2.3
L 2.3 -2.3
L -2.3 -2.3
z
" style="stroke: #33a02c; stroke-linejoin: miter"/></g>
<g transform="translate(606.34 296.12)" style="fill: #33a02c; stroke: #33a02c; stroke-linejoin: miter"><path d="M -2.3 2.3
L 2.3 2.3
L 2.3 -2.3
L -2.3 -2.3
z
" style="stroke: #33a02c; stroke-linejoin: miter"/></g>
<g transform="translate(627.05 297.18)" style="fill: #33a02c; stroke: #33a02c; stroke-linejoin: miter"><path d="M -2.3 2.3
L 2.3 2.3
L 2.3 -2.3
L -2.3 -2.3
z
" style="stroke: #33a02c; stroke-linejoin: miter"/></g>
<g transform="translate(647.75 299.86)" style="fill: #33a02c; stroke: #33a02c; stroke-linejoin: miter"><path d="M -2.3 2.3
L 2.3 2.3
L 2.3 -2.3
L -2.3 -2.3
z
" style="stroke: #33a02c; stroke-linejoin: miter"/></g>
<g transform="translate(668.46 302.26)" style="fill: #33a02c; stroke: #33a02c; stroke-linejoin: miter"><path d="M -2.3 2.3
L 2.3 2.3
L 2.3 -2.3
L -2.3 -2.3
z
" style="stroke: #33a02c; stroke-linejoin: miter"/></g>
<g transform="translate(689.17 305.19)" style="fill: #33a02c; stroke: #33a02c; stroke-linejoin: miter"><path d="M -2.3 2.3
L 2.3 2.3
L 2.3 -2.3
L -2.3 -2.3
z
" style="stroke: #33a02c; stroke-linejoin: miter"/></g>
<g transform="translate(709.87 309.22)" style="fill: #33a02c; stroke: #33a02c; stroke-linejoin: miter"><path d="M -2.3 2.3
L 2.3 2.3
L 2.3 -2.3
L -2.3 -2.3
z
" style="stroke: #33a02c; stroke-linejoin: miter"/></g>
<g transform="translate(730.58 313.65)" style="fill: #33a02c; stroke: #33a02c; stroke-linejoin: miter"><path d="M -2.3 2.3
L 2.3 2.3
L 2.3 -2.3
L -2.3 -2.3
z
" style="stroke: #33a02c; stroke-linejoin: miter"/></g>
<g transform="translate(751.29 318.73)" style="fill: #33a02c; stroke: #33a02c; stroke-linejoin: miter"><path d="M -2.3 2.3
L 2.3 2.3
L 2.3 -2.3
L -2.3 -2.3
z
" style="stroke: #33a02c; stroke-linejoin: miter"/></g>
<g transform="translate(771.99 322.96)" style="fill: #33a02c; stroke: #33a02c; stroke-linejoin: miter"><path d="M -2.3 2.3
L 2.3 2.3
L 2.3 -2.3
L -2.3 -2.3
z
" style="stroke: #33a02c; stroke-linejoin: miter"/></g>
<g transform="translate(785.66 324.91)" style="fill: #33a02c; stroke: #33a02c; stroke-linejoin: miter"><path d="M -2.3 2.3
L 2.3 2.3
L 2.3 -2.3
L -2.3 -2.3
z
" style="stroke: #33a02c; stroke-linejoin: miter"/></g>
</g>
</g>
<g id="line2d_128">
<path d="M 93.222853 172.785616
L 109.374198 165.46596
L 130.081049 161.074166
L 150.787901 172.378968
L 171.494753 208.977249
L 192.201605 253.017181
L 212.908456 283.597077
L 233.615308 289.696791
L 254.32216 279.083289
L 275.029011 263.996665
L 295.735863 252.773192
L 316.442715 242.850991
L 337.149566 232.522143
L 357.856418 227.479713
L 378.56327 231.749513
L 399.270121 249.072699
L 419.976973 272.129616
L 440.683825 292.461994
L 461.390676 305.881364
L 482.097528 308.727897
L 502.80438 307.548619
L 523.511232 307.019977
L 544.218083 311.818418
L 564.924935 319.382063
L 585.631787 329.304264
L 606.338638 331.418831
L 627.04549 326.579725
L 647.752342 315.559576
L 668.459193 305.596711
L 689.166045 296.813123
L 709.872897 295.349192
L 730.579748 299.131014
L 751.2866 305.352722
L 771.993452 310.761135
L 785.659974 314.136309
" clip-path="url(#p8c6a318f81)" style="fill: none; stroke: #e31a1c; stroke-width: 2; stroke-linecap: square"/>
<g clip-path="url(#p8c6a318f81)">
<g transform="translate(93.22 172.79)" style="fill: #e31a1c; stroke: #e31a1c; stroke-linejoin: miter"><path d="M 0 -2.6
L -2.6 2.6
L 2.6 2.6
z
" style="stroke: #e31a1c; stroke-linejoin: miter"/></g>
<g transform="translate(109.37 165.47)" style="fill: #e31a1c; stroke: #e31a1c; stroke-linejoin: miter"><path d="M 0 -2.6
L -2.6 2.6
L 2.6 2.6
z
" style="stroke: #e31a1c; stroke-linejoin: miter"/></g>
<g transform="translate(130.08 161.07)" style="fill: #e31a1c; stroke: #e31a1c; stroke-linejoin: miter"><path d="M 0 -2.6
L -2.6 2.6
L 2.6 2.6
z
" style="stroke: #e31a1c; stroke-linejoin: miter"/></g>
<g transform="translate(150.79 172.38)" style="fill: #e31a1c; stroke: #e31a1c; stroke-linejoin: miter"><path d="M 0 -2.6
L -2.6 2.6
L 2.6 2.6
z
" style="stroke: #e31a1c; stroke-linejoin: miter"/></g>
<g transform="translate(171.49 208.98)" style="fill: #e31a1c; stroke: #e31a1c; stroke-linejoin: miter"><path d="M 0 -2.6
L -2.6 2.6
L 2.6 2.6
z
" style="stroke: #e31a1c; stroke-linejoin: miter"/></g>
<g transform="translate(192.20 253.02)" style="fill: #e31a1c; stroke: #e31a1c; stroke-linejoin: miter"><path d="M 0 -2.6
L -2.6 2.6
L 2.6 2.6
z
" style="stroke: #e31a1c; stroke-linejoin: miter"/></g>
<g transform="translate(212.91 283.60)" style="fill: #e31a1c; stroke: #e31a1c; stroke-linejoin: miter"><path d="M 0 -2.6
L -2.6 2.6
L 2.6 2.6
z
" style="stroke: #e31a1c; stroke-linejoin: miter"/></g>
<g transform="translate(233.62 289.70)" style="fill: #e31a1c; stroke: #e31a1c; stroke-linejoin: miter"><path d="M 0 -2.6
L -2.6 2.6
L 2.6 2.6
z
" style="stroke: #e31a1c; stroke-linejoin: miter"/></g>
<g transform="translate(254.32 279.08)" style="fill: #e31a1c; stroke: #e31a1c; stroke-linejoin: miter"><path d="M 0 -2.6
L -2.6 2.6
L 2.6 2.6
z
" style="stroke: #e31a1c; stroke-linejoin: miter"/></g>
<g transform="translate(275.03 264.00)" style="fill: #e31a1c; stroke: #e31a1c; stroke-linejoin: miter"><path d="M 0 -2.6
L -2.6 2.6
L 2.6 2.6
z
" style="stroke: #e31a1c; stroke-linejoin: miter"/></g>
<g transform="translate(295.74 252.77)" style="fill: #e31a1c; stroke: #e31a1c; stroke-linejoin: miter"><path d="M 0 -2.6
L -2.6 2.6
L 2.6 2.6
z
" style="stroke: #e31a1c; stroke-linejoin: miter"/></g>
<g transform="translate(316.44 242.85)" style="fill: #e31a1c; stroke: #e31a1c; stroke-linejoin: miter"><path d="M 0 -2.6
L -2.6 2.6
L 2.6 2.6
z
" style="stroke: #e31a1c; stroke-linejoin: miter"/></g>
<g transform="translate(337.15 232.52)" style="fill: #e31a1c; stroke: #e31a1c; stroke-linejoin: miter"><path d="M 0 -2.6
L -2.6 2.6
L 2.6 2.6
z
" style="stroke: #e31a1c; stroke-linejoin: miter"/></g>
<g transform="translate(357.86 227.48)" style="fill: #e31a1c; stroke: #e31a1c; stroke-linejoin: miter"><path d="M 0 -2.6
L -2.6 2.6
L 2.6 2.6
z
" style="stroke: #e31a1c; stroke-linejoin: miter"/></g>
<g transform="translate(378.56 231.75)" style="fill: #e31a1c; stroke: #e31a1c; stroke-linejoin: miter"><path d="M 0 -2.6
L -2.6 2.6
L 2.6 2.6
z
" style="stroke: #e31a1c; stroke-linejoin: miter"/></g>
<g transform="translate(399.27 249.07)" style="fill: #e31a1c; stroke: #e31a1c; stroke-linejoin: miter"><path d="M 0 -2.6
L -2.6 2.6
L 2.6 2.6
z
" style="stroke: #e31a1c; stroke-linejoin: miter"/></g>
<g transform="translate(419.98 272.13)" style="fill: #e31a1c; stroke: #e31a1c; stroke-linejoin: miter"><path d="M 0 -2.6
L -2.6 2.6
L 2.6 2.6
z
" style="stroke: #e31a1c; stroke-linejoin: miter"/></g>
<g transform="translate(440.68 292.46)" style="fill: #e31a1c; stroke: #e31a1c; stroke-linejoin: miter"><path d="M 0 -2.6
L -2.6 2.6
L 2.6 2.6
z
" style="stroke: #e31a1c; stroke-linejoin: miter"/></g>
<g transform="translate(461.39 305.88)" style="fill: #e31a1c; stroke: #e31a1c; stroke-linejoin: miter"><path d="M 0 -2.6
L -2.6 2.6
L 2.6 2.6
z
" style="stroke: #e31a1c; stroke-linejoin: miter"/></g>
<g transform="translate(482.10 308.73)" style="fill: #e31a1c; stroke: #e31a1c; stroke-linejoin: miter"><path d="M 0 -2.6
L -2.6 2.6
L 2.6 2.6
z
" style="stroke: #e31a1c; stroke-linejoin: miter"/></g>
<g transform="translate(502.80 307.55)" style="fill: #e31a1c; stroke: #e31a1c; stroke-linejoin: miter"><path d="M 0 -2.6
L -2.6 2.6
L 2.6 2.6
z
" style="stroke: #e31a1c; stroke-linejoin: miter"/></g>
<g transform="translate(523.51 307.02)" style="fill: #e31a1c; stroke: #e31a1c; stroke-linejoin: miter"><path d="M 0 -2.6
L -2.6 2.6
L 2.6 2.6
z
" style="stroke: #e31a1c; stroke-linejoin: miter"/></g>
<g transform="translate(544.22 311.82)" style="fill: #e31a1c; stroke: #e31a1c; stroke-linejoin: miter"><path d="M 0 -2.6
L -2.6 2.6
L 2.6 2.6
z
" style="stroke: #e31a1c; stroke-linejoin: miter"/></g>
<g transform="translate(564.92 319.38)" style="fill: #e31a1c; stroke: #e31a1c; stroke-linejoin: miter"><path d="M 0 -2.6
L -2.6 2.6
L 2.6 2.6
z
" style="stroke: #e31a1c; stroke-linejoin: miter"/></g>
<g transform="translate(585.63 329.30)" style="fill: #e31a1c; stroke: #e31a1c; stroke-linejoin: miter"><path d="M 0 -2.6
L -2.6 2.6
L 2.6 2.6
z
" style="stroke: #e31a1c; stroke-linejoin: miter"/></g>
<g transform="translate(606.34 331.42)" style="fill: #e31a1c; stroke: #e31a1c; stroke-linejoin: miter"><path d="M 0 -2.6
L -2.6 2.6
L 2.6 2.6
z
" style="stroke: #e31a1c; stroke-linejoin: miter"/></g>
<g transform="translate(627.05 326.58)" style="fill: #e31a1c; stroke: #e31a1c; stroke-linejoin: miter"><path d="M 0 -2.6
L -2.6 2.6
L 2.6 2.6
z
" style="stroke: #e31a1c; stroke-linejoin: miter"/></g>
<g transform="translate(647.75 315.56)" style="fill: #e31a1c; stroke: #e31a1c; stroke-linejoin: miter"><path d="M 0 -2.6
L -2.6 2.6
L 2.6 2.6
z
" style="stroke: #e31a1c; stroke-linejoin: miter"/></g>
<g transform="translate(668.46 305.60)" style="fill: #e31a1c; stroke: #e31a1c; stroke-linejoin: miter"><path d="M 0 -2.6
L -2.6 2.6
L 2.6 2.6
z
" style="stroke: #e31a1c; stroke-linejoin: miter"/></g>
<g transform="translate(689.17 296.81)" style="fill: #e31a1c; stroke: #e31a1c; stroke-linejoin: miter"><path d="M 0 -2.6
L -2.6 2.6
L 2.6 2.6
z
" style="stroke: #e31a1c; stroke-linejoin: miter"/></g>
<g transform="translate(709.87 295.35)" style="fill: #e31a1c; stroke: #e31a1c; stroke-linejoin: miter"><path d="M 0 -2.6
L -2.6 2.6
L 2.6 2.6
z
" style="stroke: #e31a1c; stroke-linejoin: miter"/></g>
<g transform="translate(730.58 299.13)" style="fill: #e31a1c; stroke: #e31a1c; stroke-linejoin: miter"><path d="M 0 -2.6
L -2.6 2.6
L 2.6 2.6
z
" style="stroke: #e31a1c; stroke-linejoin: miter"/></g>
<g transform="translate(751.29 305.35)" style="fill: #e31a1c; stroke: #e31a1c; stroke-linejoin: miter"><path d="M 0 -2.6
L -2.6 2.6
L 2.6 2.6
z
" style="stroke: #e31a1c; stroke-linejoin: miter"/></g>
<g transform="translate(771.99 310.76)" style="fill: #e31a1c; stroke: #e31a1c; stroke-linejoin: miter"><path d="M 0 -2.6
L -2.6 2.6
L 2.6 2.6
z
" style="stroke: #e31a1c; stroke-linejoin: miter"/></g>
<g transform="translate(785.66 314.14)" style="fill: #e31a1c; stroke: #e31a1c; stroke-linejoin: miter"><path d="M 0 -2.6
L -2.6 2.6
L 2.6 2.6
z
" style="stroke: #e31a1c; stroke-linejoin: miter"/></g>
</g>
</g>
<g id="line2d_129">
<path d="M 93.222853 123.093284
L 109.374198 135.496034
L 130.081049 148.956069
L 150.787901 159.976218
L 171.494753 166.279255
L 192.201605 169.776424
L 212.908456 176.079461
L 233.615308 189.092183
L 254.32216 207.472653
L 275.029011 225.48714
L 295.735863 239.272493
L 316.442715 247.161456
L 337.149566 251.837903
L 357.856418 256.148367
L 378.56327 262.492069
L 399.270121 271.600974
L 419.976973 284.207049
L 440.683825 292.461994
L 461.390676 296.609799
L 482.097528 291.404711
L 502.80438 282.621123
L 523.511232 276.114762
L 544.218083 276.318086
L 564.924935 282.621123
L 585.631787 290.347427
L 606.338638 297.341765
L 627.04549 301.652229
L 647.752342 305.515381
L 668.459193 309.134544
L 689.166045 312.591049
L 709.872897 315.68157
L 730.579748 318.406109
L 751.2866 321.455966
L 771.993452 321.781284
L 785.659974 321.659289
" clip-path="url(#p8c6a318f81)" style="fill: none; stroke: #6a3d9a; stroke-width: 2; stroke-linecap: square"/>
<g clip-path="url(#p8c6a318f81)">
<g transform="translate(93.22 123.09)" style="fill: #6a3d9a; stroke: #6a3d9a; stroke-linejoin: miter"><path d="M -0 3.61
L 2.16 0
L 0 -3.61
L -2.16 -0
z
" style="stroke: #6a3d9a; stroke-linejoin: miter"/></g>
<g transform="translate(109.37 135.50)" style="fill: #6a3d9a; stroke: #6a3d9a; stroke-linejoin: miter"><path d="M -0 3.61
L 2.16 0
L 0 -3.61
L -2.16 -0
z
" style="stroke: #6a3d9a; stroke-linejoin: miter"/></g>
<g transform="translate(130.08 148.96)" style="fill: #6a3d9a; stroke: #6a3d9a; stroke-linejoin: miter"><path d="M -0 3.61
L 2.16 0
L 0 -3.61
L -2.16 -0
z
" style="stroke: #6a3d9a; stroke-linejoin: miter"/></g>
<g transform="translate(150.79 159.98)" style="fill: #6a3d9a; stroke: #6a3d9a; stroke-linejoin: miter"><path d="M -0 3.61
L 2.16 0
L 0 -3.61
L -2.16 -0
z
" style="stroke: #6a3d9a; stroke-linejoin: miter"/></g>
<g transform="translate(171.49 166.28)" style="fill: #6a3d9a; stroke: #6a3d9a; stroke-linejoin: miter"><path d="M -0 3.61
L 2.16 0
L 0 -3.61
L -2.16 -0
z
" style="stroke: #6a3d9a; stroke-linejoin: miter"/></g>
<g transform="translate(192.20 169.78)" style="fill: #6a3d9a; stroke: #6a3d9a; stroke-linejoin: miter"><path d="M -0 3.61
L 2.16 0
L 0 -3.61
L -2.16 -0
z
" style="stroke: #6a3d9a; stroke-linejoin: miter"/></g>
<g transform="translate(212.91 176.08)" style="fill: #6a3d9a; stroke: #6a3d9a; stroke-linejoin: miter"><path d="M -0 3.61
L 2.16 0
L 0 -3.61
L -2.16 -0
z
" style="stroke: #6a3d9a; stroke-linejoin: miter"/></g>
<g transform="translate(233.62 189.09)" style="fill: #6a3d9a; stroke: #6a3d9a; stroke-linejoin: miter"><path d="M -0 3.61
L 2.16 0
L 0 -3.61
L -2.16 -0
z
" style="stroke: #6a3d9a; stroke-linejoin: miter"/></g>
<g transform="translate(254.32 207.47)" style="fill: #6a3d9a; stroke: #6a3d9a; stroke-linejoin: miter"><path d="M -0 3.61
L 2.16 0
L 0 -3.61
L -2.16 -0
z
" style="stroke: #6a3d9a; stroke-linejoin: miter"/></g>
<g transform="translate(275.03 225.49)" style="fill: #6a3d9a; stroke: #6a3d9a; stroke-linejoin: miter"><path d="M -0 3.61
L 2.16 0
L 0 -3.61
L -2.16 -0
z
" style="stroke: #6a3d9a; stroke-linejoin: miter"/></g>
<g transform="translate(295.74 239.27)" style="fill: #6a3d9a; stroke: #6a3d9a; stroke-linejoin: miter"><path d="M -0 3.61
L 2.16 0
L 0 -3.61
L -2.16 -0
z
" style="stroke: #6a3d9a; stroke-linejoin: miter"/></g>
<g transform="translate(316.44 247.16)" style="fill: #6a3d9a; stroke: #6a3d9a; stroke-linejoin: miter"><path d="M -0 3.61
L 2.16 0
L 0 -3.61
L -2.16 -0
z
" style="stroke: #6a3d9a; stroke-linejoin: miter"/></g>
<g transform="translate(337.15 251.84)" style="fill: #6a3d9a; stroke: #6a3d9a; stroke-linejoin: miter"><path d="M -0 3.61
L 2.16 0
L 0 -3.61
L -2.16 -0
z
" style="stroke: #6a3d9a; stroke-linejoin: miter"/></g>
<g transform="translate(357.86 256.15)" style="fill: #6a3d9a; stroke: #6a3d9a; stroke-linejoin: miter"><path d="M -0 3.61
L 2.16 0
L 0 -3.61
L -2.16 -0
z
" style="stroke: #6a3d9a; stroke-linejoin: miter"/></g>
<g transform="translate(378.56 262.49)" style="fill: #6a3d9a; stroke: #6a3d9a; stroke-linejoin: miter"><path d="M -0 3.61
L 2.16 0
L 0 -3.61
L -2.16 -0
z
" style="stroke: #6a3d9a; stroke-linejoin: miter"/></g>
<g transform="translate(399.27 271.60)" style="fill: #6a3d9a; stroke: #6a3d9a; stroke-linejoin: miter"><path d="M -0 3.61
L 2.16 0
L 0 -3.61
L -2.16 -0
z
" style="stroke: #6a3d9a; stroke-linejoin: miter"/></g>
<g transform="translate(419.98 284.21)" style="fill: #6a3d9a; stroke: #6a3d9a; stroke-linejoin: miter"><path d="M -0 3.61
L 2.16 0
L 0 -3.61
L -2.16 -0
z
" style="stroke: #6a3d9a; stroke-linejoin: miter"/></g>
<g transform="translate(440.68 292.46)" style="fill: #6a3d9a; stroke: #6a3d9a; stroke-linejoin: miter"><path d="M -0 3.61
L 2.16 0
L 0 -3.61
L -2.16 -0
z
" style="stroke: #6a3d9a; stroke-linejoin: miter"/></g>
<g transform="translate(461.39 296.61)" style="fill: #6a3d9a; stroke: #6a3d9a; stroke-linejoin: miter"><path d="M -0 3.61
L 2.16 0
L 0 -3.61
L -2.16 -0
z
" style="stroke: #6a3d9a; stroke-linejoin: miter"/></g>
<g transform="translate(482.10 291.40)" style="fill: #6a3d9a; stroke: #6a3d9a; stroke-linejoin: miter"><path d="M -0 3.61
L 2.16 0
L 0 -3.61
L -2.16 -0
z
" style="stroke: #6a3d9a; stroke-linejoin: miter"/></g>
<g transform="translate(502.80 282.62)" style="fill: #6a3d9a; stroke: #6a3d9a; stroke-linejoin: miter"><path d="M -0 3.61
L 2.16 0
L 0 -3.61
L -2.16 -0
z
" style="stroke: #6a3d9a; stroke-linejoin: miter"/></g>
<g transform="translate(523.51 276.11)" style="fill: #6a3d9a; stroke: #6a3d9a; stroke-linejoin: miter"><path d="M -0 3.61
L 2.16 0
L 0 -3.61
L -2.16 -0
z
" style="stroke: #6a3d9a; stroke-linejoin: miter"/></g>
<g transform="translate(544.22 276.32)" style="fill: #6a3d9a; stroke: #6a3d9a; stroke-linejoin: miter"><path d="M -0 3.61
L 2.16 0
L 0 -3.61
L -2.16 -0
z
" style="stroke: #6a3d9a; stroke-linejoin: miter"/></g>
<g transform="translate(564.92 282.62)" style="fill: #6a3d9a; stroke: #6a3d9a; stroke-linejoin: miter"><path d="M -0 3.61
L 2.16 0
L 0 -3.61
L -2.16 -0
z
" style="stroke: #6a3d9a; stroke-linejoin: miter"/></g>
<g transform="translate(585.63 290.35)" style="fill: #6a3d9a; stroke: #6a3d9a; stroke-linejoin: miter"><path d="M -0 3.61
L 2.16 0
L 0 -3.61
L -2.16 -0
z
" style="stroke: #6a3d9a; stroke-linejoin: miter"/></g>
<g transform="translate(606.34 297.34)" style="fill: #6a3d9a; stroke: #6a3d9a; stroke-linejoin: miter"><path d="M -0 3.61
L 2.16 0
L 0 -3.61
L -2.16 -0
z
" style="stroke: #6a3d9a; stroke-linejoin: miter"/></g>
<g transform="translate(627.05 301.65)" style="fill: #6a3d9a; stroke: #6a3d9a; stroke-linejoin: miter"><path d="M -0 3.61
L 2.16 0
L 0 -3.61
L -2.16 -0
z
" style="stroke: #6a3d9a; stroke-linejoin: miter"/></g>
<g transform="translate(647.75 305.52)" style="fill: #6a3d9a; stroke: #6a3d9a; stroke-linejoin: miter"><path d="M -0 3.61
L 2.16 0
L 0 -3.61
L -2.16 -0
z
" style="stroke: #6a3d9a; stroke-linejoin: miter"/></g>
<g transform="translate(668.46 309.13)" style="fill: #6a3d9a; stroke: #6a3d9a; stroke-linejoin: miter"><path d="M -0 3.61
L 2.16 0
L 0 -3.61
L -2.16 -0
z
" style="stroke: #6a3d9a; stroke-linejoin: miter"/></g>
<g transform="translate(689.17 312.59)" style="fill: #6a3d9a; stroke: #6a3d9a; stroke-linejoin: miter"><path d="M -0 3.61
L 2.16 0
L 0 -3.61
L -2.16 -0
z
" style="stroke: #6a3d9a; stroke-linejoin: miter"/></g>
<g transform="translate(709.87 315.68)" style="fill: #6a3d9a; stroke: #6a3d9a; stroke-linejoin: miter"><path d="M -0 3.61
L 2.16 0
L 0 -3.61
L -2.16 -0
z
" style="stroke: #6a3d9a; stroke-linejoin: miter"/></g>
<g transform="translate(730.58 318.41)" style="fill: #6a3d9a; stroke: #6a3d9a; stroke-linejoin: miter"><path d="M -0 3.61
L 2.16 0
L 0 -3.61
L -2.16 -0
z
" style="stroke: #6a3d9a; stroke-linejoin: miter"/></g>
<g transform="translate(751.29 321.46)" style="fill: #6a3d9a; stroke: #6a3d9a; stroke-linejoin: miter"><path d="M -0 3.61
L 2.16 0
L 0 -3.61
L -2.16 -0
z
" style="stroke: #6a3d9a; stroke-linejoin: miter"/></g>
<g transform="translate(771.99 321.78)" style="fill: #6a3d9a; stroke: #6a3d9a; stroke-linejoin: miter"><path d="M -0 3.61
L 2.16 0
L 0 -3.61
L -2.16 -0
z
" style="stroke: #6a3d9a; stroke-linejoin: miter"/></g>
<g transform="translate(785.66 321.66)" style="fill: #6a3d9a; stroke: #6a3d9a; stroke-linejoin: miter"><path d="M -0 3.61
L 2.16 0
L 0 -3.61
L -2.16 -0
z
" style="stroke: #6a3d9a; stroke-linejoin: miter"/></g>
</g>
</g>
<g id="line2d_130">
<path d="M 93.222853 137.08196
L 109.374198 131.2669
L 130.081049 129.47765
L 150.787901 130.168951
L 171.494753 125.858487
L 192.201605 121.26337
L 212.908456 125.573834
L 233.615308 146.394189
L 254.32216 185.188367
L 275.029011 225.975117
L 295.735863 252.122556
L 316.442715 261.39412
L 337.149566 256.473685
L 357.856418 250.170648
L 378.56327 247.893421
L 399.270121 251.715908
L 419.976973 256.43302
L 440.683825 262.573398
L 461.390676 268.632447
L 482.097528 275.220138
L 502.80438 282.214476
L 523.511232 288.720837
L 544.218083 294.413903
L 564.924935 299.618991
L 585.631787 305.393387
L 606.338638 310.679805
L 627.04549 314.90894
L 647.752342 320.317352
L 668.459193 324.302499
L 689.166045 326.091748
L 709.872897 324.302499
L 730.579748 317.592814
L 751.2866 305.393387
L 771.993452 293.681937
L 785.659974 287.012917
" clip-path="url(#p8c6a318f81)" style="fill: none; stroke: #b22cd8; stroke-width: 2; stroke-linecap: square"/>
<g clip-path="url(#p8c6a318f81)">
<g transform="translate(93.22 137.08)" style="fill: #b22cd8; stroke: #b22cd8; stroke-linejoin: bevel"><path d="M 0 -2.95
L -0.66 -0.91
L -2.81 -0.91
L -1.07 0.35
L -1.73 2.39
L -0 1.13
L 1.73 2.39
L 1.07 0.35
L 2.81 -0.91
L 0.66 -0.91
z
" style="stroke: #b22cd8; stroke-linejoin: bevel"/></g>
<g transform="translate(109.37 131.27)" style="fill: #b22cd8; stroke: #b22cd8; stroke-linejoin: bevel"><path d="M 0 -2.95
L -0.66 -0.91
L -2.81 -0.91
L -1.07 0.35
L -1.73 2.39
L -0 1.13
L 1.73 2.39
L 1.07 0.35
L 2.81 -0.91
L 0.66 -0.91
z
" style="stroke: #b22cd8; stroke-linejoin: bevel"/></g>
<g transform="translate(130.08 129.48)" style="fill: #b22cd8; stroke: #b22cd8; stroke-linejoin: bevel"><path d="M 0 -2.95
L -0.66 -0.91
L -2.81 -0.91
L -1.07 0.35
L -1.73 2.39
L -0 1.13
L 1.73 2.39
L 1.07 0.35
L 2.81 -0.91
L 0.66 -0.91
z
" style="stroke: #b22cd8; stroke-linejoin: bevel"/></g>
<g transform="translate(150.79 130.17)" style="fill: #b22cd8; stroke: #b22cd8; stroke-linejoin: bevel"><path d="M 0 -2.95
L -0.66 -0.91
L -2.81 -0.91
L -1.07 0.35
L -1.73 2.39
L -0 1.13
L 1.73 2.39
L 1.07 0.35
L 2.81 -0.91
L 0.66 -0.91
z
" style="stroke: #b22cd8; stroke-linejoin: bevel"/></g>
<g transform="translate(171.49 125.86)" style="fill: #b22cd8; stroke: #b22cd8; stroke-linejoin: bevel"><path d="M 0 -2.95
L -0.66 -0.91
L -2.81 -0.91
L -1.07 0.35
L -1.73 2.39
L -0 1.13
L 1.73 2.39
L 1.07 0.35
L 2.81 -0.91
L 0.66 -0.91
z
" style="stroke: #b22cd8; stroke-linejoin: bevel"/></g>
<g transform="translate(192.20 121.26)" style="fill: #b22cd8; stroke: #b22cd8; stroke-linejoin: bevel"><path d="M 0 -2.95
L -0.66 -0.91
L -2.81 -0.91
L -1.07 0.35
L -1.73 2.39
L -0 1.13
L 1.73 2.39
L 1.07 0.35
L 2.81 -0.91
L 0.66 -0.91
z
" style="stroke: #b22cd8; stroke-linejoin: bevel"/></g>
<g transform="translate(212.91 125.57)" style="fill: #b22cd8; stroke: #b22cd8; stroke-linejoin: bevel"><path d="M 0 -2.95
L -0.66 -0.91
L -2.81 -0.91
L -1.07 0.35
L -1.73 2.39
L -0 1.13
L 1.73 2.39
L 1.07 0.35
L 2.81 -0.91
L 0.66 -0.91
z
" style="stroke: #b22cd8; stroke-linejoin: bevel"/></g>
<g transform="translate(233.62 146.39)" style="fill: #b22cd8; stroke: #b22cd8; stroke-linejoin: bevel"><path d="M 0 -2.95
L -0.66 -0.91
L -2.81 -0.91
L -1.07 0.35
L -1.73 2.39
L -0 1.13
L 1.73 2.39
L 1.07 0.35
L 2.81 -0.91
L 0.66 -0.91
z
" style="stroke: #b22cd8; stroke-linejoin: bevel"/></g>
<g transform="translate(254.32 185.19)" style="fill: #b22cd8; stroke: #b22cd8; stroke-linejoin: bevel"><path d="M 0 -2.95
L -0.66 -0.91
L -2.81 -0.91
L -1.07 0.35
L -1.73 2.39
L -0 1.13
L 1.73 2.39
L 1.07 0.35
L 2.81 -0.91
L 0.66 -0.91
z
" style="stroke: #b22cd8; stroke-linejoin: bevel"/></g>
<g transform="translate(275.03 225.98)" style="fill: #b22cd8; stroke: #b22cd8; stroke-linejoin: bevel"><path d="M 0 -2.95
L -0.66 -0.91
L -2.81 -0.91
L -1.07 0.35
L -1.73 2.39
L -0 1.13
L 1.73 2.39
L 1.07 0.35
L 2.81 -0.91
L 0.66 -0.91
z
" style="stroke: #b22cd8; stroke-linejoin: bevel"/></g>
<g transform="translate(295.74 252.12)" style="fill: #b22cd8; stroke: #b22cd8; stroke-linejoin: bevel"><path d="M 0 -2.95
L -0.66 -0.91
L -2.81 -0.91
L -1.07 0.35
L -1.73 2.39
L -0 1.13
L 1.73 2.39
L 1.07 0.35
L 2.81 -0.91
L 0.66 -0.91
z
" style="stroke: #b22cd8; stroke-linejoin: bevel"/></g>
<g transform="translate(316.44 261.39)" style="fill: #b22cd8; stroke: #b22cd8; stroke-linejoin: bevel"><path d="M 0 -2.95
L -0.66 -0.91
L -2.81 -0.91
L -1.07 0.35
L -1.73 2.39
L -0 1.13
L 1.73 2.39
L 1.07 0.35
L 2.81 -0.91
L 0.66 -0.91
z
" style="stroke: #b22cd8; stroke-linejoin: bevel"/></g>
<g transform="translate(337.15 256.47)" style="fill: #b22cd8; stroke: #b22cd8; stroke-linejoin: bevel"><path d="M 0 -2.95
L -0.66 -0.91
L -2.81 -0.91
L -1.07 0.35
L -1.73 2.39
L -0 1.13
L 1.73 2.39
L 1.07 0.35
L 2.81 -0.91
L 0.66 -0.91
z
" style="stroke: #b22cd8; stroke-linejoin: bevel"/></g>
<g transform="translate(357.86 250.17)" style="fill: #b22cd8; stroke: #b22cd8; stroke-linejoin: bevel"><path d="M 0 -2.95
L -0.66 -0.91
L -2.81 -0.91
L -1.07 0.35
L -1.73 2.39
L -0 1.13
L 1.73 2.39
L 1.07 0.35
L 2.81 -0.91
L 0.66 -0.91
z
" style="stroke: #b22cd8; stroke-linejoin: bevel"/></g>
<g transform="translate(378.56 247.89)" style="fill: #b22cd8; stroke: #b22cd8; stroke-linejoin: bevel"><path d="M 0 -2.95
L -0.66 -0.91
L -2.81 -0.91
L -1.07 0.35
L -1.73 2.39
L -0 1.13
L 1.73 2.39
L 1.07 0.35
L 2.81 -0.91
L 0.66 -0.91
z
" style="stroke: #b22cd8; stroke-linejoin: bevel"/></g>
<g transform="translate(399.27 251.72)" style="fill: #b22cd8; stroke: #b22cd8; stroke-linejoin: bevel"><path d="M 0 -2.95
L -0.66 -0.91
L -2.81 -0.91
L -1.07 0.35
L -1.73 2.39
L -0 1.13
L 1.73 2.39
L 1.07 0.35
L 2.81 -0.91
L 0.66 -0.91
z
" style="stroke: #b22cd8; stroke-linejoin: bevel"/></g>
<g transform="translate(419.98 256.43)" style="fill: #b22cd8; stroke: #b22cd8; stroke-linejoin: bevel"><path d="M 0 -2.95
L -0.66 -0.91
L -2.81 -0.91
L -1.07 0.35
L -1.73 2.39
L -0 1.13
L 1.73 2.39
L 1.07 0.35
L 2.81 -0.91
L 0.66 -0.91
z
" style="stroke: #b22cd8; stroke-linejoin: bevel"/></g>
<g transform="translate(440.68 262.57)" style="fill: #b22cd8; stroke: #b22cd8; stroke-linejoin: bevel"><path d="M 0 -2.95
L -0.66 -0.91
L -2.81 -0.91
L -1.07 0.35
L -1.73 2.39
L -0 1.13
L 1.73 2.39
L 1.07 0.35
L 2.81 -0.91
L 0.66 -0.91
z
" style="stroke: #b22cd8; stroke-linejoin: bevel"/></g>
<g transform="translate(461.39 268.63)" style="fill: #b22cd8; stroke: #b22cd8; stroke-linejoin: bevel"><path d="M 0 -2.95
L -0.66 -0.91
L -2.81 -0.91
L -1.07 0.35
L -1.73 2.39
L -0 1.13
L 1.73 2.39
L 1.07 0.35
L 2.81 -0.91
L 0.66 -0.91
z
" style="stroke: #b22cd8; stroke-linejoin: bevel"/></g>
<g transform="translate(482.10 275.22)" style="fill: #b22cd8; stroke: #b22cd8; stroke-linejoin: bevel"><path d="M 0 -2.95
L -0.66 -0.91
L -2.81 -0.91
L -1.07 0.35
L -1.73 2.39
L -0 1.13
L 1.73 2.39
L 1.07 0.35
L 2.81 -0.91
L 0.66 -0.91
z
" style="stroke: #b22cd8; stroke-linejoin: bevel"/></g>
<g transform="translate(502.80 282.21)" style="fill: #b22cd8; stroke: #b22cd8; stroke-linejoin: bevel"><path d="M 0 -2.95
L -0.66 -0.91
L -2.81 -0.91
L -1.07 0.35
L -1.73 2.39
L -0 1.13
L 1.73 2.39
L 1.07 0.35
L 2.81 -0.91
L 0.66 -0.91
z
" style="stroke: #b22cd8; stroke-linejoin: bevel"/></g>
<g transform="translate(523.51 288.72)" style="fill: #b22cd8; stroke: #b22cd8; stroke-linejoin: bevel"><path d="M 0 -2.95
L -0.66 -0.91
L -2.81 -0.91
L -1.07 0.35
L -1.73 2.39
L -0 1.13
L 1.73 2.39
L 1.07 0.35
L 2.81 -0.91
L 0.66 -0.91
z
" style="stroke: #b22cd8; stroke-linejoin: bevel"/></g>
<g transform="translate(544.22 294.41)" style="fill: #b22cd8; stroke: #b22cd8; stroke-linejoin: bevel"><path d="M 0 -2.95
L -0.66 -0.91
L -2.81 -0.91
L -1.07 0.35
L -1.73 2.39
L -0 1.13
L 1.73 2.39
L 1.07 0.35
L 2.81 -0.91
L 0.66 -0.91
z
" style="stroke: #b22cd8; stroke-linejoin: bevel"/></g>
<g transform="translate(564.92 299.62)" style="fill: #b22cd8; stroke: #b22cd8; stroke-linejoin: bevel"><path d="M 0 -2.95
L -0.66 -0.91
L -2.81 -0.91
L -1.07 0.35
L -1.73 2.39
L -0 1.13
L 1.73 2.39
L 1.07 0.35
L 2.81 -0.91
L 0.66 -0.91
z
" style="stroke: #b22cd8; stroke-linejoin: bevel"/></g>
<g transform="translate(585.63 305.39)" style="fill: #b22cd8; stroke: #b22cd8; stroke-linejoin: bevel"><path d="M 0 -2.95
L -0.66 -0.91
L -2.81 -0.91
L -1.07 0.35
L -1.73 2.39
L -0 1.13
L 1.73 2.39
L 1.07 0.35
L 2.81 -0.91
L 0.66 -0.91
z
" style="stroke: #b22cd8; stroke-linejoin: bevel"/></g>
<g transform="translate(606.34 310.68)" style="fill: #b22cd8; stroke: #b22cd8; stroke-linejoin: bevel"><path d="M 0 -2.95
L -0.66 -0.91
L -2.81 -0.91
L -1.07 0.35
L -1.73 2.39
L -0 1.13
L 1.73 2.39
L 1.07 0.35
L 2.81 -0.91
L 0.66 -0.91
z
" style="stroke: #b22cd8; stroke-linejoin: bevel"/></g>
<g transform="translate(627.05 314.91)" style="fill: #b22cd8; stroke: #b22cd8; stroke-linejoin: bevel"><path d="M 0 -2.95
L -0.66 -0.91
L -2.81 -0.91
L -1.07 0.35
L -1.73 2.39
L -0 1.13
L 1.73 2.39
L 1.07 0.35
L 2.81 -0.91
L 0.66 -0.91
z
" style="stroke: #b22cd8; stroke-linejoin: bevel"/></g>
<g transform="translate(647.75 320.32)" style="fill: #b22cd8; stroke: #b22cd8; stroke-linejoin: bevel"><path d="M 0 -2.95
L -0.66 -0.91
L -2.81 -0.91
L -1.07 0.35
L -1.73 2.39
L -0 1.13
L 1.73 2.39
L 1.07 0.35
L 2.81 -0.91
L 0.66 -0.91
z
" style="stroke: #b22cd8; stroke-linejoin: bevel"/></g>
<g transform="translate(668.46 324.30)" style="fill: #b22cd8; stroke: #b22cd8; stroke-linejoin: bevel"><path d="M 0 -2.95
L -0.66 -0.91
L -2.81 -0.91
L -1.07 0.35
L -1.73 2.39
L -0 1.13
L 1.73 2.39
L 1.07 0.35
L 2.81 -0.91
L 0.66 -0.91
z
" style="stroke: #b22cd8; stroke-linejoin: bevel"/></g>
<g transform="translate(689.17 326.09)" style="fill: #b22cd8; stroke: #b22cd8; stroke-linejoin: bevel"><path d="M 0 -2.95
L -0.66 -0.91
L -2.81 -0.91
L -1.07 0.35
L -1.73 2.39
L -0 1.13
L 1.73 2.39
L 1.07 0.35
L 2.81 -0.91
L 0.66 -0.91
z
" style="stroke: #b22cd8; stroke-linejoin: bevel"/></g>
<g transform="translate(709.87 324.30)" style="fill: #b22cd8; stroke: #b22cd8; stroke-linejoin: bevel"><path d="M 0 -2.95
L -0.66 -0.91
L -2.81 -0.91
L -1.07 0.35
L -1.73 2.39
L -0 1.13
L 1.73 2.39
L 1.07 0.35
L 2.81 -0.91
L 0.66 -0.91
z
" style="stroke: #b22cd8; stroke-linejoin: bevel"/></g>
<g transform="translate(730.58 317.59)" style="fill: #b22cd8; stroke: #b22cd8; stroke-linejoin: bevel"><path d="M 0 -2.95
L -0.66 -0.91
L -2.81 -0.91
L -1.07 0.35
L -1.73 2.39
L -0 1.13
L 1.73 2.39
L 1.07 0.35
L 2.81 -0.91
L 0.66 -0.91
z
" style="stroke: #b22cd8; stroke-linejoin: bevel"/></g>
<g transform="translate(751.29 305.39)" style="fill: #b22cd8; stroke: #b22cd8; stroke-linejoin: bevel"><path d="M 0 -2.95
L -0.66 -0.91
L -2.81 -0.91
L -1.07 0.35
L -1.73 2.39
L -0 1.13
L 1.73 2.39
L 1.07 0.35
L 2.81 -0.91
L 0.66 -0.91
z
" style="stroke: #b22cd8; stroke-linejoin: bevel"/></g>
<g transform="translate(771.99 293.68)" style="fill: #b22cd8; stroke: #b22cd8; stroke-linejoin: bevel"><path d="M 0 -2.95
L -0.66 -0.91
L -2.81 -0.91
L -1.07 0.35
L -1.73 2.39
L -0 1.13
L 1.73 2.39
L 1.07 0.35
L 2.81 -0.91
L 0.66 -0.91
z
" style="stroke: #b22cd8; stroke-linejoin: bevel"/></g>
<g transform="translate(785.66 287.01)" style="fill: #b22cd8; stroke: #b22cd8; stroke-linejoin: bevel"><path d="M 0 -2.95
L -0.66 -0.91
L -2.81 -0.91
L -1.07 0.35
L -1.73 2.39
L -0 1.13
L 1.73 2.39
L 1.07 0.35
L 2.81 -0.91
L 0.66 -0.91
z
" style="stroke: #b22cd8; stroke-linejoin: bevel"/></g>
</g>
</g>
<g id="line2d_131">
<path d="M 93.222853 78.484046
L 109.374198 53.353226
L 130.081049 35.664057
L 150.787901 37.65663
L 171.494753 64.373375
L 192.201605 104.062178
L 212.908456 139.399851
L 233.615308 162.700756
L 254.32216 178.925994
L 275.029011 193.890625
L 295.735863 206.374705
L 316.442715 219.875404
L 337.149566 232.400149
L 357.856418 243.908275
L 378.56327 251.715908
L 399.270121 260.418166
L 419.976973 265.623255
L 440.683825 270.015049
L 461.390676 274.325513
L 482.097528 277.416034
L 502.80438 280.587885
L 523.511232 284.207049
L 544.218083 288.720837
L 564.924935 296.081158
L 585.631787 303.278819
L 606.338638 310.476481
L 627.04549 314.339633
L 647.752342 317.714808
L 668.459193 319.09741
L 689.166045 320.398682
L 709.872897 320.764665
L 730.579748 319.544722
L 751.2866 316.982842
L 771.993452 313.932986
L 785.659974 312.713043
" clip-path="url(#p8c6a318f81)" style="fill: none; stroke: #b15928; stroke-width: 2; stroke-linecap: square"/>
<g clip-path="url(#p8c6a318f81)">
<g transform="translate(93.22 78.48)" style="fill: #b15928; stroke: #b15928; stroke-width: 1.4"><path d="M -2.3 2.3
L 2.3 -2.3
M -2.3 -2.3
L 2.3 2.3
" style="stroke: #b15928; stroke-width: 1.4"/></g>
<g transform="translate(109.37 53.35)" style="fill: #b15928; stroke: #b15928; stroke-width: 1.4"><path d="M -2.3 2.3
L 2.3 -2.3
M -2.3 -2.3
L 2.3 2.3
" style="stroke: #b15928; stroke-width: 1.4"/></g>
<g transform="translate(130.08 35.66)" style="fill: #b15928; stroke: #b15928; stroke-width: 1.4"><path d="M -2.3 2.3
L 2.3 -2.3
M -2.3 -2.3
L 2.3 2.3
" style="stroke: #b15928; stroke-width: 1.4"/></g>
<g transform="translate(150.79 37.66)" style="fill: #b15928; stroke: #b15928; stroke-width: 1.4"><path d="M -2.3 2.3
L 2.3 -2.3
M -2.3 -2.3
L 2.3 2.3
" style="stroke: #b15928; stroke-width: 1.4"/></g>
<g transform="translate(171.49 64.37)" style="fill: #b15928; stroke: #b15928; stroke-width: 1.4"><path d="M -2.3 2.3
L 2.3 -2.3
M -2.3 -2.3
L 2.3 2.3
" style="stroke: #b15928; stroke-width: 1.4"/></g>
<g transform="translate(192.20 104.06)" style="fill: #b15928; stroke: #b15928; stroke-width: 1.4"><path d="M -2.3 2.3
L 2.3 -2.3
M -2.3 -2.3
L 2.3 2.3
" style="stroke: #b15928; stroke-width: 1.4"/></g>
<g transform="translate(212.91 139.40)" style="fill: #b15928; stroke: #b15928; stroke-width: 1.4"><path d="M -2.3 2.3
L 2.3 -2.3
M -2.3 -2.3
L 2.3 2.3
" style="stroke: #b15928; stroke-width: 1.4"/></g>
<g transform="translate(233.62 162.70)" style="fill: #b15928; stroke: #b15928; stroke-width: 1.4"><path d="M -2.3 2.3
L 2.3 -2.3
M -2.3 -2.3
L 2.3 2.3
" style="stroke: #b15928; stroke-width: 1.4"/></g>
<g transform="translate(254.32 178.93)" style="fill: #b15928; stroke: #b15928; stroke-width: 1.4"><path d="M -2.3 2.3
L 2.3 -2.3
M -2.3 -2.3
L 2.3 2.3
" style="stroke: #b15928; stroke-width: 1.4"/></g>
<g transform="translate(275.03 193.89)" style="fill: #b15928; stroke: #b15928; stroke-width: 1.4"><path d="M -2.3 2.3
L 2.3 -2.3
M -2.3 -2.3
L 2.3 2.3
" style="stroke: #b15928; stroke-width: 1.4"/></g>
<g transform="translate(295.74 206.37)" style="fill: #b15928; stroke: #b15928; stroke-width: 1.4"><path d="M -2.3 2.3
L 2.3 -2.3
M -2.3 -2.3
L 2.3 2.3
" style="stroke: #b15928; stroke-width: 1.4"/></g>
<g transform="translate(316.44 219.88)" style="fill: #b15928; stroke: #b15928; stroke-width: 1.4"><path d="M -2.3 2.3
L 2.3 -2.3
M -2.3 -2.3
L 2.3 2.3
" style="stroke: #b15928; stroke-width: 1.4"/></g>
<g transform="translate(337.15 232.40)" style="fill: #b15928; stroke: #b15928; stroke-width: 1.4"><path d="M -2.3 2.3
L 2.3 -2.3
M -2.3 -2.3
L 2.3 2.3
" style="stroke: #b15928; stroke-width: 1.4"/></g>
<g transform="translate(357.86 243.91)" style="fill: #b15928; stroke: #b15928; stroke-width: 1.4"><path d="M -2.3 2.3
L 2.3 -2.3
M -2.3 -2.3
L 2.3 2.3
" style="stroke: #b15928; stroke-width: 1.4"/></g>
<g transform="translate(378.56 251.72)" style="fill: #b15928; stroke: #b15928; stroke-width: 1.4"><path d="M -2.3 2.3
L 2.3 -2.3
M -2.3 -2.3
L 2.3 2.3
" style="stroke: #b15928; stroke-width: 1.4"/></g>
<g transform="translate(399.27 260.42)" style="fill: #b15928; stroke: #b15928; stroke-width: 1.4"><path d="M -2.3 2.3
L 2.3 -2.3
M -2.3 -2.3
L 2.3 2.3
" style="stroke: #b15928; stroke-width: 1.4"/></g>
<g transform="translate(419.98 265.62)" style="fill: #b15928; stroke: #b15928; stroke-width: 1.4"><path d="M -2.3 2.3
L 2.3 -2.3
M -2.3 -2.3
L 2.3 2.3
" style="stroke: #b15928; stroke-width: 1.4"/></g>
<g transform="translate(440.68 270.02)" style="fill: #b15928; stroke: #b15928; stroke-width: 1.4"><path d="M -2.3 2.3
L 2.3 -2.3
M -2.3 -2.3
L 2.3 2.3
" style="stroke: #b15928; stroke-width: 1.4"/></g>
<g transform="translate(461.39 274.33)" style="fill: #b15928; stroke: #b15928; stroke-width: 1.4"><path d="M -2.3 2.3
L 2.3 -2.3
M -2.3 -2.3
L 2.3 2.3
" style="stroke: #b15928; stroke-width: 1.4"/></g>
<g transform="translate(482.10 277.42)" style="fill: #b15928; stroke: #b15928; stroke-width: 1.4"><path d="M -2.3 2.3
L 2.3 -2.3
M -2.3 -2.3
L 2.3 2.3
" style="stroke: #b15928; stroke-width: 1.4"/></g>
<g transform="translate(502.80 280.59)" style="fill: #b15928; stroke: #b15928; stroke-width: 1.4"><path d="M -2.3 2.3
L 2.3 -2.3
M -2.3 -2.3
L 2.3 2.3
" style="stroke: #b15928; stroke-width: 1.4"/></g>
<g transform="translate(523.51 284.21)" style="fill: #b15928; stroke: #b15928; stroke-width: 1.4"><path d="M -2.3 2.3
L 2.3 -2.3
M -2.3 -2.3
L 2.3 2.3
" style="stroke: #b15928; stroke-width: 1.4"/></g>
<g transform="translate(544.22 288.72)" style="fill: #b15928; stroke: #b15928; stroke-width: 1.4"><path d="M -2.3 2.3
L 2.3 -2.3
M -2.3 -2.3
L 2.3 2.3
" style="stroke: #b15928; stroke-width: 1.4"/></g>
<g transform="translate(564.92 296.08)" style="fill: #b15928; stroke: #b15928; stroke-width: 1.4"><path d="M -2.3 2.3
L 2.3 -2.3
M -2.3 -2.3
L 2.3 2.3
" style="stroke: #b15928; stroke-width: 1.4"/></g>
<g transform="translate(585.63 303.28)" style="fill: #b15928; stroke: #b15928; stroke-width: 1.4"><path d="M -2.3 2.3
L 2.3 -2.3
M -2.3 -2.3
L 2.3 2.3
" style="stroke: #b15928; stroke-width: 1.4"/></g>
<g transform="translate(606.34 310.48)" style="fill: #b15928; stroke: #b15928; stroke-width: 1.4"><path d="M -2.3 2.3
L 2.3 -2.3
M -2.3 -2.3
L 2.3 2.3
" style="stroke: #b15928; stroke-width: 1.4"/></g>
<g transform="translate(627.05 314.34)" style="fill: #b15928; stroke: #b15928; stroke-width: 1.4"><path d="M -2.3 2.3
L 2.3 -2.3
M -2.3 -2.3
L 2.3 2.3
" style="stroke: #b15928; stroke-width: 1.4"/></g>
<g transform="translate(647.75 317.71)" style="fill: #b15928; stroke: #b15928; stroke-width: 1.4"><path d="M -2.3 2.3
L 2.3 -2.3
M -2.3 -2.3
L 2.3 2.3
" style="stroke: #b15928; stroke-width: 1.4"/></g>
<g transform="translate(668.46 319.10)" style="fill: #b15928; stroke: #b15928; stroke-width: 1.4"><path d="M -2.3 2.3
L 2.3 -2.3
M -2.3 -2.3
L 2.3 2.3
" style="stroke: #b15928; stroke-width: 1.4"/></g>
<g transform="translate(689.17 320.40)" style="fill: #b15928; stroke: #b15928; stroke-width: 1.4"><path d="M -2.3 2.3
L 2.3 -2.3
M -2.3 -2.3
L 2.3 2.3
" style="stroke: #b15928; stroke-width: 1.4"/></g>
<g transform="translate(709.87 320.76)" style="fill: #b15928; stroke: #b15928; stroke-width: 1.4"><path d="M -2.3 2.3
L 2.3 -2.3
M -2.3 -2.3
L 2.3 2.3
" style="stroke: #b15928; stroke-width: 1.4"/></g>
<g transform="translate(730.58 319.54)" style="fill: #b15928; stroke: #b15928; stroke-width: 1.4"><path d="M -2.3 2.3
L 2.3 -2.3
M -2.3 -2.3
L 2.3 2.3
" style="stroke: #b15928; stroke-width: 1.4"/></g>
<g transform="translate(751.29 316.98)" style="fill: #b15928; stroke: #b15928; stroke-width: 1.4"><path d="M -2.3 2.3
L 2.3 -2.3
M -2.3 -2.3
L 2.3 2.3
" style="stroke: #b15928; stroke-width: 1.4"/></g>
<g transform="translate(771.99 313.93)" style="fill: #b15928; stroke: #b15928; stroke-width: 1.4"><path d="M -2.3 2.3
L 2.3 -2.3
M -2.3 -2.3
L 2.3 2.3
" style="stroke: #b15928; stroke-width: 1.4"/></g>
<g transform="translate(785.66 312.71)" style="fill: #b15928; stroke: #b15928; stroke-width: 1.4"><path d="M -2.3 2.3
L 2.3 -2.3
M -2.3 -2.3
L 2.3 2.3
" style="stroke: #b15928; stroke-width: 1.4"/></g>
</g>
</g>
<g id="line2d_132">
<path d="M 93.222853 39.649203
L 109.374198 31.06894
L 130.081049 25.538533
L 150.787901 30.540298
L 171.494753 46.846865
L 192.201605 70.473089
L 212.908456 96.051221
L 233.615308 123.174613
L 254.32216 154.689799
L 275.029011 185.879668
L 295.735863 211.457799
L 316.442715 231.830842
L 337.149566 248.422063
L 357.856418 262.085421
L 378.56327 271.885628
L 399.270121 276.196092
L 419.976973 277.29404
L 440.683825 278.798636
L 461.390676 283.1091
L 482.097528 291.648699
L 502.80438 301.774223
L 523.511232 311.086453
L 544.218083 315.68157
L 564.924935 312.469054
L 585.631787 308.605903
L 606.338638 303.807461
L 627.04549 306.003358
L 647.752342 310.842464
L 668.459193 317.104837
L 689.166045 322.269261
L 709.872897 323.163885
L 730.579748 322.35059
L 751.2866 319.341398
L 771.993452 316.576195
L 785.659974 315.274923
" clip-path="url(#p8c6a318f81)" style="fill: none; stroke: #707376; stroke-width: 2; stroke-linecap: square"/>
<g clip-path="url(#p8c6a318f81)">
<g transform="translate(93.22 39.65)" style="fill: #707376; stroke: #707376; stroke-linejoin: miter"><path d="M -0 2.6
L 2.6 -2.6
L -2.6 -2.6
z
" style="stroke: #707376; stroke-linejoin: miter"/></g>
<g transform="translate(109.37 31.07)" style="fill: #707376; stroke: #707376; stroke-linejoin: miter"><path d="M -0 2.6
L 2.6 -2.6
L -2.6 -2.6
z
" style="stroke: #707376; stroke-linejoin: miter"/></g>
<g transform="translate(130.08 25.54)" style="fill: #707376; stroke: #707376; stroke-linejoin: miter"><path d="M -0 2.6
L 2.6 -2.6
L -2.6 -2.6
z
" style="stroke: #707376; stroke-linejoin: miter"/></g>
<g transform="translate(150.79 30.54)" style="fill: #707376; stroke: #707376; stroke-linejoin: miter"><path d="M -0 2.6
L 2.6 -2.6
L -2.6 -2.6
z
" style="stroke: #707376; stroke-linejoin: miter"/></g>
<g transform="translate(171.49 46.85)" style="fill: #707376; stroke: #707376; stroke-linejoin: miter"><path d="M -0 2.6
L 2.6 -2.6
L -2.6 -2.6
z
" style="stroke: #707376; stroke-linejoin: miter"/></g>
<g transform="translate(192.20 70.47)" style="fill: #707376; stroke: #707376; stroke-linejoin: miter"><path d="M -0 2.6
L 2.6 -2.6
L -2.6 -2.6
z
" style="stroke: #707376; stroke-linejoin: miter"/></g>
<g transform="translate(212.91 96.05)" style="fill: #707376; stroke: #707376; stroke-linejoin: miter"><path d="M -0 2.6
L 2.6 -2.6
L -2.6 -2.6
z
" style="stroke: #707376; stroke-linejoin: miter"/></g>
<g transform="translate(233.62 123.17)" style="fill: #707376; stroke: #707376; stroke-linejoin: miter"><path d="M -0 2.6
L 2.6 -2.6
L -2.6 -2.6
z
" style="stroke: #707376; stroke-linejoin: miter"/></g>
<g transform="translate(254.32 154.69)" style="fill: #707376; stroke: #707376; stroke-linejoin: miter"><path d="M -0 2.6
L 2.6 -2.6
L -2.6 -2.6
z
" style="stroke: #707376; stroke-linejoin: miter"/></g>
<g transform="translate(275.03 185.88)" style="fill: #707376; stroke: #707376; stroke-linejoin: miter"><path d="M -0 2.6
L 2.6 -2.6
L -2.6 -2.6
z
" style="stroke: #707376; stroke-linejoin: miter"/></g>
<g transform="translate(295.74 211.46)" style="fill: #707376; stroke: #707376; stroke-linejoin: miter"><path d="M -0 2.6
L 2.6 -2.6
L -2.6 -2.6
z
" style="stroke: #707376; stroke-linejoin: miter"/></g>
<g transform="translate(316.44 231.83)" style="fill: #707376; stroke: #707376; stroke-linejoin: miter"><path d="M -0 2.6
L 2.6 -2.6
L -2.6 -2.6
z
" style="stroke: #707376; stroke-linejoin: miter"/></g>
<g transform="translate(337.15 248.42)" style="fill: #707376; stroke: #707376; stroke-linejoin: miter"><path d="M -0 2.6
L 2.6 -2.6
L -2.6 -2.6
z
" style="stroke: #707376; stroke-linejoin: miter"/></g>
<g transform="translate(357.86 262.09)" style="fill: #707376; stroke: #707376; stroke-linejoin: miter"><path d="M -0 2.6
L 2.6 -2.6
L -2.6 -2.6
z
" style="stroke: #707376; stroke-linejoin: miter"/></g>
<g transform="translate(378.56 271.89)" style="fill: #707376; stroke: #707376; stroke-linejoin: miter"><path d="M -0 2.6
L 2.6 -2.6
L -2.6 -2.6
z
" style="stroke: #707376; stroke-linejoin: miter"/></g>
<g transform="translate(399.27 276.20)" style="fill: #707376; stroke: #707376; stroke-linejoin: miter"><path d="M -0 2.6
L 2.6 -2.6
L -2.6 -2.6
z
" style="stroke: #707376; stroke-linejoin: miter"/></g>
<g transform="translate(419.98 277.29)" style="fill: #707376; stroke: #707376; stroke-linejoin: miter"><path d="M -0 2.6
L 2.6 -2.6
L -2.6 -2.6
z
" style="stroke: #707376; stroke-linejoin: miter"/></g>
<g transform="translate(440.68 278.80)" style="fill: #707376; stroke: #707376; stroke-linejoin: miter"><path d="M -0 2.6
L 2.6 -2.6
L -2.6 -2.6
z
" style="stroke: #707376; stroke-linejoin: miter"/></g>
<g transform="translate(461.39 283.11)" style="fill: #707376; stroke: #707376; stroke-linejoin: miter"><path d="M -0 2.6
L 2.6 -2.6
L -2.6 -2.6
z
" style="stroke: #707376; stroke-linejoin: miter"/></g>
<g transform="translate(482.10 291.65)" style="fill: #707376; stroke: #707376; stroke-linejoin: miter"><path d="M -0 2.6
L 2.6 -2.6
L -2.6 -2.6
z
" style="stroke: #707376; stroke-linejoin: miter"/></g>
<g transform="translate(502.80 301.77)" style="fill: #707376; stroke: #707376; stroke-linejoin: miter"><path d="M -0 2.6
L 2.6 -2.6
L -2.6 -2.6
z
" style="stroke: #707376; stroke-linejoin: miter"/></g>
<g transform="translate(523.51 311.09)" style="fill: #707376; stroke: #707376; stroke-linejoin: miter"><path d="M -0 2.6
L 2.6 -2.6
L -2.6 -2.6
z
" style="stroke: #707376; stroke-linejoin: miter"/></g>
<g transform="translate(544.22 315.68)" style="fill: #707376; stroke: #707376; stroke-linejoin: miter"><path d="M -0 2.6
L 2.6 -2.6
L -2.6 -2.6
z
" style="stroke: #707376; stroke-linejoin: miter"/></g>
<g transform="translate(564.92 312.47)" style="fill: #707376; stroke: #707376; stroke-linejoin: miter"><path d="M -0 2.6
L 2.6 -2.6
L -2.6 -2.6
z
" style="stroke: #707376; stroke-linejoin: miter"/></g>
<g transform="translate(585.63 308.61)" style="fill: #707376; stroke: #707376; stroke-linejoin: miter"><path d="M -0 2.6
L 2.6 -2.6
L -2.6 -2.6
z
" style="stroke: #707376; stroke-linejoin: miter"/></g>
<g transform="translate(606.34 303.81)" style="fill: #707376; stroke: #707376; stroke-linejoin: miter"><path d="M -0 2.6
L 2.6 -2.6
L -2.6 -2.6
z
" style="stroke: #707376; stroke-linejoin: miter"/></g>
<g transform="translate(627.05 306.00)" style="fill: #707376; stroke: #707376; stroke-linejoin: miter"><path d="M -0 2.6
L 2.6 -2.6
L -2.6 -2.6
z
" style="stroke: #707376; stroke-linejoin: miter"/></g>
<g transform="translate(647.75 310.84)" style="fill: #707376; stroke: #707376; stroke-linejoin: miter"><path d="M -0 2.6
L 2.6 -2.6
L -2.6 -2.6
z
" style="stroke: #707376; stroke-linejoin: miter"/></g>
<g transform="translate(668.46 317.10)" style="fill: #707376; stroke: #707376; stroke-linejoin: miter"><path d="M -0 2.6
L 2.6 -2.6
L -2.6 -2.6
z
" style="stroke: #707376; stroke-linejoin: miter"/></g>
<g transform="translate(689.17 322.27)" style="fill: #707376; stroke: #707376; stroke-linejoin: miter"><path d="M -0 2.6
L 2.6 -2.6
L -2.6 -2.6
z
" style="stroke: #707376; stroke-linejoin: miter"/></g>
<g transform="translate(709.87 323.16)" style="fill: #707376; stroke: #707376; stroke-linejoin: miter"><path d="M -0 2.6
L 2.6 -2.6
L -2.6 -2.6
z
" style="stroke: #707376; stroke-linejoin: miter"/></g>
<g transform="translate(730.58 322.35)" style="fill: #707376; stroke: #707376; stroke-linejoin: miter"><path d="M -0 2.6
L 2.6 -2.6
L -2.6 -2.6
z
" style="stroke: #707376; stroke-linejoin: miter"/></g>
<g transform="translate(751.29 319.34)" style="fill: #707376; stroke: #707376; stroke-linejoin: miter"><path d="M -0 2.6
L 2.6 -2.6
L -2.6 -2.6
z
" style="stroke: #707376; stroke-linejoin: miter"/></g>
<g transform="translate(771.99 316.58)" style="fill: #707376; stroke: #707376; stroke-linejoin: miter"><path d="M -0 2.6
L 2.6 -2.6
L -2.6 -2.6
z
" style="stroke: #707376; stroke-linejoin: miter"/></g>
<g transform="translate(785.66 315.27)" style="fill: #707376; stroke: #707376; stroke-linejoin: miter"><path d="M -0 2.6
L 2.6 -2.6
L -2.6 -2.6
z
" style="stroke: #707376; stroke-linejoin: miter"/></g>
</g>
</g>
<g id="patch_3">
<path d="M 57.4 363.3
L 57.4 8.5
" style="fill: none; stroke: #222222; stroke-width: 1.1; stroke-linejoin: miter; stroke-linecap: square"/>
</g>
<g id="patch_4">
<path d="M 821.4 363.3
L 821.4 8.5
" style="fill: none; stroke: #222222; stroke-width: 1.1; stroke-linejoin: miter; stroke-linecap: square"/>
</g>
<g id="patch_5">
<path d="M 57.4 363.3
L 821.4 363.3
" style="fill: none; stroke: #222222; stroke-width: 1.1; stroke-linejoin: miter; stroke-linecap: square"/>
</g>
<g id="patch_6">
<path d="M 57.4 8.5
L 821.4 8.5
" style="fill: none; stroke: #222222; stroke-width: 1.1; stroke-linejoin: miter; stroke-linecap: square"/>
</g>
<g id="legend_1">
<g id="patch_7">
<path d="M 556.486137 224.203875
L 807.33 224.203875
Q 811.25 224.203875 811.25 220.283875
L 811.25 22.82
Q 811.25 18.9 807.33 18.9
L 556.486137 18.9
Q 552.566137 18.9 552.566137 22.82
L 552.566137 220.283875
Q 552.566137 224.203875 556.486137 224.203875
z
" style="fill: #ffffff; opacity: 0.8; stroke: #cccccc; stroke-linejoin: miter"/>
</g>
<g id="line2d_133">
<path d="M 559.602537 33.969337
L 578.810537 33.969337
L 598.018537 33.969337
" style="fill: none; stroke: #1f78b4; stroke-width: 2; stroke-linecap: square"/>
<g>
<g transform="translate(578.81 35.47)" style="fill: #1f78b4; stroke: #1f78b4"><path d="M 0 2.7
C 0.72 2.7 1.4 2.42 1.91 1.91
C 2.42 1.4 2.7 0.72 2.7 0
C 2.7 -0.72 2.42 -1.4 1.91 -1.91
C 1.4 -2.42 0.72 -2.7 0 -2.7
C -0.72 -2.7 -1.4 -2.42 -1.91 -1.91
C -2.42 -1.4 -2.7 -0.72 -2.7 0
C -2.7 0.72 -2.42 1.4 -1.91 1.91
C -1.4 2.42 -0.72 2.7 0 2.7
z
" style="stroke: #1f78b4"/></g>
</g>
</g>
<g id="text_30">
<text style="font-size: 19.6px; font-family: 'DejaVu Sans'; text-anchor: start" x="613.698537" y="40.829337" transform="rotate(-0 613.698537 40.829337)">CC(0 splits) + LRP</text>
</g>
<g id="line2d_134">
<path d="M 559.602537 62.679662
L 578.810537 62.679662
L 598.018537 62.679662
" style="fill: none; stroke: #33a02c; stroke-width: 2; stroke-linecap: square"/>
<g>
<g transform="translate(578.81 64.18)" style="fill: #33a02c; stroke: #33a02c; stroke-linejoin: miter"><path d="M -2.3 2.3
L 2.3 2.3
L 2.3 -2.3
L -2.3 -2.3
z
" style="stroke: #33a02c; stroke-linejoin: miter"/></g>
</g>
</g>
<g id="text_31">
<text style="font-size: 19.6px; font-family: 'DejaVu Sans'; text-anchor: start" x="613.698537" y="69.539662" transform="rotate(-0 613.698537 69.539662)">CC(2 splits) + LRP</text>
</g>
<g id="line2d_135">
<path d="M 559.602537 91.389987
L 578.810537 91.389987
L 598.018537 91.389987
" style="fill: none; stroke: #e31a1c; stroke-width: 2; stroke-linecap: square"/>
<g>
<g transform="translate(578.81 92.89)" style="fill: #e31a1c; stroke: #e31a1c; stroke-linejoin: miter"><path d="M 0 -2.6
L -2.6 2.6
L 2.6 2.6
z
" style="stroke: #e31a1c; stroke-linejoin: miter"/></g>
</g>
</g>
<g id="text_32">
<text style="font-size: 19.6px; font-family: 'DejaVu Sans'; text-anchor: start" x="613.698537" y="98.249987" transform="rotate(-0 613.698537 98.249987)">CC(3 splits) + LRP</text>
</g>
<g id="line2d_136">
<path d="M 559.602537 120.100312
L 578.810537 120.100312
L 598.018537 120.100312
" style="fill: none; stroke: #6a3d9a; stroke-width: 2; stroke-linecap: square"/>
<g>
<g transform="translate(578.81 121.60)" style="fill: #6a3d9a; stroke: #6a3d9a; stroke-linejoin: miter"><path d="M -0 3.61
L 2.16 0
L 0 -3.61
L -2.16 -0
z
" style="stroke: #6a3d9a; stroke-linejoin: miter"/></g>
</g>
</g>
<g id="text_33">
<text style="font-size: 19.6px; font-family: 'DejaVu Sans'; text-anchor: start" x="613.698537" y="126.960312" transform="rotate(-0 613.698537 126.960312)">CC(4 splits) + LRP</text>
</g>
<g id="line2d_137">
<path d="M 559.602537 148.810637
L 578.810537 148.810637
L 598.018537 148.810637
" style="fill: none; stroke: #b22cd8; stroke-width: 2; stroke-linecap: square"/>
<g>
<g transform="translate(578.81 150.31)" style="fill: #b22cd8; stroke: #b22cd8; stroke-linejoin: bevel"><path d="M 0 -2.95
L -0.66 -0.91
L -2.81 -0.91
L -1.07 0.35
L -1.73 2.39
L -0 1.13
L 1.73 2.39
L 1.07 0.35
L 2.81 -0.91
L 0.66 -0.91
z
" style="stroke: #b22cd8; stroke-linejoin: bevel"/></g>
</g>
</g>
<g id="text_34">
<text style="font-size: 19.6px; font-family: 'DejaVu Sans'; text-anchor: start" x="613.698537" y="155.670637" transform="rotate(-0 613.698537 155.670637)">CC(5 splits) + LRP</text>
</g>
<g id="line2d_138">
<path d="M 559.602537 177.520962
L 578.810537 177.520962
L 598.018537 177.520962
" style="fill: none; stroke: #b15928; stroke-width: 2; stroke-linecap: square"/>
<g>
<g transform="translate(578.81 179.02)" style="fill: #b15928; stroke: #b15928; stroke-width: 1.4"><path d="M -2.3 2.3
L 2.3 -2.3
M -2.3 -2.3
L 2.3 2.3
" style="stroke: #b15928; stroke-width: 1.4"/></g>
</g>
</g>
<g id="text_35">
<text style="font-size: 19.6px; font-family: 'DejaVu Sans'; text-anchor: start" x="613.698537" y="184.380962" transform="rotate(-0 613.698537 184.380962)">CC(8 splits) + LRP</text>
</g>
<g id="line2d_139">
<path d="M 559.602537 206.231287
L 578.810537 206.231287
L 598.018537 206.231287
" style="fill: none; stroke: #707376; stroke-width: 2; stroke-linecap: square"/>
<g>
<g transform="translate(578.81 207.73)" style="fill: #707376; stroke: #707376; stroke-linejoin: miter"><path d="M -0 2.6
L 2.6 -2.6
L -2.6 -2.6
z
" style="stroke: #707376; stroke-linejoin: miter"/></g>
</g>
</g>
<g id="text_36">
<text style="font-size: 19.6px; font-family: 'DejaVu Sans'; text-anchor: start" x="613.698537" y="213.091287" transform="rotate(-0 613.698537 213.091287)">CC(10 splits) + LRP</text>
</g>
</g>
</g>
</g>
<defs>
<clipPath id="p8c6a318f81">
<rect x="57.4" y="8.5" width="764" height="354.8"/>
</clipPath>
</defs>
</svg>

</body></html>
